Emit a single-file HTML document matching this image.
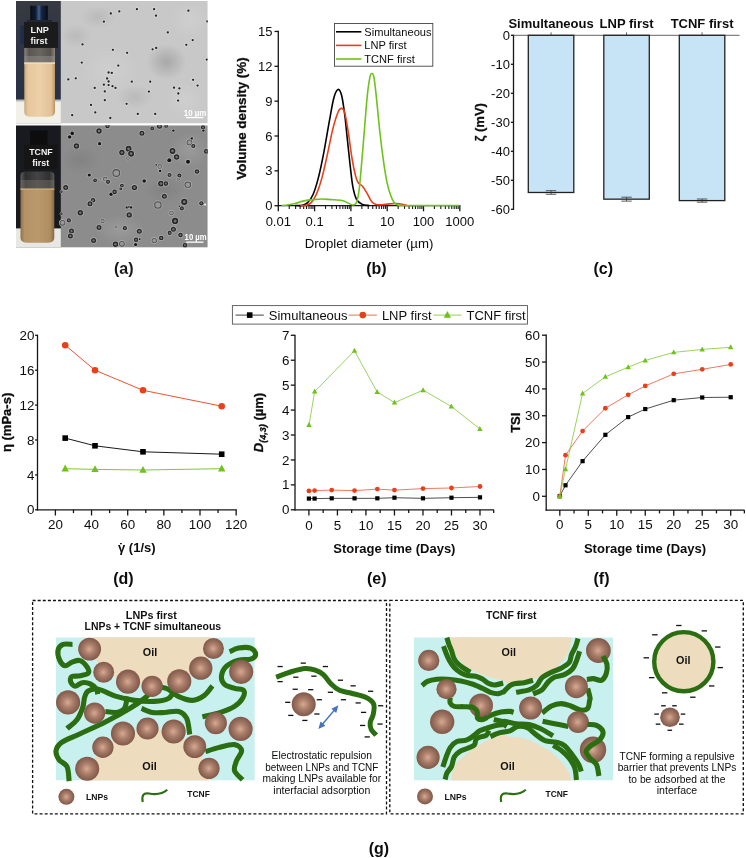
<!DOCTYPE html>
<html lang="en"><head><meta charset="utf-8"><title>Figure</title>
<style>
html,body{margin:0;padding:0;background:#fff;}
body{width:746px;height:858px;overflow:hidden;}
svg{display:block;font-family:'Liberation Sans', sans-serif;}
</style></head><body>
<svg width="746" height="858" viewBox="0 0 746 858">
<defs>
<radialGradient id="lnp" cx="50%" cy="50%" r="50%" fx="48%" fy="50%">
<stop offset="0" stop-color="#d9aa94"/><stop offset="0.45" stop-color="#a97e6a"/><stop offset="0.85" stop-color="#8b6252"/><stop offset="1" stop-color="#83594a"/>
</radialGradient>
<linearGradient id="cap1" x1="0" x2="1" y1="0" y2="0">
<stop offset="0" stop-color="#080c16"/><stop offset="0.32" stop-color="#131d33"/><stop offset="0.5" stop-color="#3f6594"/><stop offset="0.62" stop-color="#1a2a47"/><stop offset="1" stop-color="#070a12"/></linearGradient>
<linearGradient id="liq1" x1="0" x2="1" y1="0" y2="0">
<stop offset="0" stop-color="#c9a77c"/><stop offset="0.12" stop-color="#e6c79d"/><stop offset="0.5" stop-color="#ecd0a8"/><stop offset="0.88" stop-color="#e2c196"/><stop offset="1" stop-color="#b89368"/></linearGradient>
<linearGradient id="liq2" x1="0" x2="1" y1="0" y2="0">
<stop offset="0" stop-color="#907248"/><stop offset="0.12" stop-color="#b39266"/><stop offset="0.5" stop-color="#ba996e"/><stop offset="0.88" stop-color="#ae8d60"/><stop offset="1" stop-color="#87683e"/></linearGradient>
<linearGradient id="glass1" x1="0" x2="1" y1="0" y2="0">
<stop offset="0" stop-color="#8a857c"/><stop offset="0.15" stop-color="#5a5650"/><stop offset="0.5" stop-color="#6a655e"/><stop offset="0.85" stop-color="#55514b"/><stop offset="1" stop-color="#8a857c"/></linearGradient>
<linearGradient id="glass2" x1="0" x2="1" y1="0" y2="0">
<stop offset="0" stop-color="#5d5d5b"/><stop offset="0.15" stop-color="#2f2f30"/><stop offset="0.5" stop-color="#454545"/><stop offset="0.85" stop-color="#303031"/><stop offset="1" stop-color="#5a5a58"/></linearGradient>
<linearGradient id="bg1" x1="0" x2="0" y1="0" y2="1"><stop offset="0" stop-color="#373a41"/><stop offset="0.35" stop-color="#2f3544"/><stop offset="1" stop-color="#262f47"/></linearGradient>
<radialGradient id="blob" cx="50%" cy="50%" r="50%"><stop offset="0" stop-color="#000" stop-opacity="0.16"/><stop offset="1" stop-color="#000" stop-opacity="0"/></radialGradient>
<radialGradient id="blob2" cx="50%" cy="50%" r="50%"><stop offset="0" stop-color="#000" stop-opacity="0.07"/><stop offset="1" stop-color="#000" stop-opacity="0"/></radialGradient>
<radialGradient id="blobw" cx="50%" cy="50%" r="50%"><stop offset="0" stop-color="#fff" stop-opacity="0.12"/><stop offset="1" stop-color="#fff" stop-opacity="0"/></radialGradient>
<filter id="bl" x="-20%" y="-20%" width="140%" height="140%"><feGaussianBlur stdDeviation="0.4"/></filter>
<filter id="bl2" x="-20%" y="-20%" width="140%" height="140%"><feGaussianBlur stdDeviation="0.7"/></filter>
<clipPath id="cpA1"><rect x="16" y="1" width="191.7" height="122.5"/></clipPath>
<clipPath id="cpA2"><rect x="16" y="125.3" width="191.7" height="122.3"/></clipPath>

<clipPath id="cpL"><rect x="55.9" y="637.3" width="198.9" height="143.2"/></clipPath><clipPath id="cpR"><rect x="413.9" y="637.3" width="199.1" height="143.2"/></clipPath>
</defs>
<rect width="746" height="858" fill="#fff"/>
<g clip-path="url(#cpA1)">
<rect x="16" y="1" width="45" height="122.5" fill="url(#bg1)"/>
<rect x="16" y="100" width="45" height="24" fill="#f1f0e9"/>
<rect x="16" y="99" width="45" height="2.5" fill="#9a9a98" opacity="0.6" filter="url(#bl)"/>
<g filter="url(#bl)">
<rect x="24.3" y="46" width="30.7" height="19" fill="url(#glass1)"/>
<rect x="24.3" y="56" width="30.7" height="7" fill="#8b8a86" opacity="0.55"/>
<path d="M24.3 63 H55 V112 Q55 116.5 48 116.8 H31 Q24.3 116.5 24.3 112 Z" fill="url(#liq1)"/>
<rect x="24.3" y="62.3" width="30.7" height="1.6" fill="#f1debd"/>
<rect x="30.2" y="5.7" width="17.6" height="14.6" fill="url(#cap1)"/>
<rect x="27" y="20" width="25" height="3" fill="#23262d"/>
<rect x="20.4" y="25.5" width="4" height="18" fill="#1c2d4a"/>
</g>
<rect x="24" y="22" width="34" height="25.9" fill="#1a1b1a"/>
<text x="30.60" y="32.80" font-size="9" font-weight="bold" text-anchor="start" fill="#f4f4f4" textLength="18.2" lengthAdjust="spacingAndGlyphs" >LNP</text>
<text x="30.60" y="43.90" font-size="9" font-weight="bold" text-anchor="start" fill="#f4f4f4" textLength="16.9" lengthAdjust="spacingAndGlyphs" >first</text>
<rect x="60.8" y="1" width="147" height="122.5" fill="#c8c8c8"/>
<ellipse cx="166.5" cy="62" rx="20" ry="18" fill="url(#blob)"/>
<ellipse cx="98" cy="17" rx="18" ry="12" fill="url(#blob2)"/>
<ellipse cx="76" cy="36" rx="16" ry="12" fill="url(#blob2)"/>
<ellipse cx="135" cy="97" rx="18" ry="12" fill="url(#blob2)"/>
<ellipse cx="190" cy="20" rx="20" ry="18" fill="url(#blobw)"/>
<ellipse cx="110" cy="70" rx="30" ry="25" fill="url(#blobw)"/>
<ellipse cx="185" cy="100" rx="20" ry="18" fill="url(#blobw)"/>
<g filter="url(#bl)">
<circle cx="110.8" cy="13.5" r="2.0" fill="#d8d8d8"/>
<circle cx="119.3" cy="11.4" r="2.0" fill="#d8d8d8"/>
<circle cx="136.9" cy="9.2" r="2.0" fill="#d8d8d8"/>
<circle cx="154.1" cy="9.2" r="2.0" fill="#d8d8d8"/>
<circle cx="156.0" cy="15.7" r="2.0" fill="#d8d8d8"/>
<circle cx="188.4" cy="10.7" r="2.0" fill="#d8d8d8"/>
<circle cx="103.9" cy="21.7" r="2.0" fill="#d8d8d8"/>
<circle cx="167.8" cy="32.4" r="2.0" fill="#d8d8d8"/>
<circle cx="192.7" cy="40.1" r="2.0" fill="#d8d8d8"/>
<circle cx="186.3" cy="44.8" r="2.0" fill="#d8d8d8"/>
<circle cx="112.9" cy="49.8" r="2.0" fill="#d8d8d8"/>
<circle cx="127.1" cy="52.8" r="2.0" fill="#d8d8d8"/>
<circle cx="156.2" cy="48.0" r="2.0" fill="#d8d8d8"/>
<circle cx="152.6" cy="49.3" r="2.0" fill="#d8d8d8"/>
<circle cx="206.8" cy="59.6" r="2.0" fill="#d8d8d8"/>
<circle cx="118.3" cy="65.6" r="2.0" fill="#d8d8d8"/>
<circle cx="81.8" cy="62.6" r="2.0" fill="#d8d8d8"/>
<circle cx="108.6" cy="72.5" r="2.0" fill="#d8d8d8"/>
<circle cx="111.8" cy="72.9" r="2.0" fill="#d8d8d8"/>
<circle cx="107.1" cy="78.5" r="2.0" fill="#d8d8d8"/>
<circle cx="108.6" cy="81.5" r="2.0" fill="#d8d8d8"/>
<circle cx="103.9" cy="84.7" r="2.0" fill="#d8d8d8"/>
<circle cx="108.6" cy="85.1" r="2.0" fill="#d8d8d8"/>
<circle cx="112.5" cy="86.2" r="2.0" fill="#d8d8d8"/>
<circle cx="115.5" cy="87.9" r="2.0" fill="#d8d8d8"/>
<circle cx="104.8" cy="91.4" r="2.0" fill="#d8d8d8"/>
<circle cx="131.8" cy="81.7" r="2.0" fill="#d8d8d8"/>
<circle cx="150.2" cy="81.7" r="2.0" fill="#d8d8d8"/>
<circle cx="148.9" cy="91.6" r="2.0" fill="#d8d8d8"/>
<circle cx="174.0" cy="87.7" r="2.0" fill="#d8d8d8"/>
<circle cx="179.4" cy="88.4" r="2.0" fill="#d8d8d8"/>
<circle cx="178.3" cy="93.5" r="2.0" fill="#d8d8d8"/>
<circle cx="178.1" cy="100.6" r="2.0" fill="#d8d8d8"/>
<circle cx="193.1" cy="79.8" r="2.0" fill="#d8d8d8"/>
<circle cx="197.6" cy="85.6" r="2.0" fill="#d8d8d8"/>
<circle cx="104.8" cy="100.2" r="2.0" fill="#d8d8d8"/>
<circle cx="91.0" cy="104.9" r="2.0" fill="#d8d8d8"/>
<circle cx="95.3" cy="112.4" r="2.0" fill="#d8d8d8"/>
<circle cx="126.6" cy="103.8" r="2.0" fill="#d8d8d8"/>
<circle cx="137.8" cy="113.9" r="2.0" fill="#d8d8d8"/>
<circle cx="155.2" cy="113.9" r="2.0" fill="#d8d8d8"/>
<circle cx="68.3" cy="79.4" r="2.0" fill="#d8d8d8"/>
<circle cx="75.8" cy="78.3" r="2.0" fill="#d8d8d8"/>
<circle cx="72.2" cy="115.2" r="2.0" fill="#d8d8d8"/>
<circle cx="110.3" cy="118.0" r="2.0" fill="#d8d8d8"/>
<circle cx="94.7" cy="87.9" r="2.0" fill="#d8d8d8"/>
<circle cx="82.5" cy="44.4" r="2.0" fill="#d8d8d8"/>
<circle cx="207.3" cy="21.4" r="2.0" fill="#d8d8d8"/>
<circle cx="110.8" cy="13.5" r="1.15" fill="#222"/>
<circle cx="119.3" cy="11.4" r="1.15" fill="#222"/>
<circle cx="136.9" cy="9.2" r="1.15" fill="#222"/>
<circle cx="154.1" cy="9.2" r="1.15" fill="#222"/>
<circle cx="156.0" cy="15.7" r="1.15" fill="#222"/>
<circle cx="188.4" cy="10.7" r="1.15" fill="#222"/>
<circle cx="103.9" cy="21.7" r="1.15" fill="#222"/>
<circle cx="167.8" cy="32.4" r="1.15" fill="#222"/>
<circle cx="192.7" cy="40.1" r="1.15" fill="#222"/>
<circle cx="186.3" cy="44.8" r="1.15" fill="#222"/>
<circle cx="112.9" cy="49.8" r="1.15" fill="#222"/>
<circle cx="127.1" cy="52.8" r="1.15" fill="#222"/>
<circle cx="156.2" cy="48.0" r="1.15" fill="#222"/>
<circle cx="152.6" cy="49.3" r="1.15" fill="#222"/>
<circle cx="206.8" cy="59.6" r="1.15" fill="#222"/>
<circle cx="118.3" cy="65.6" r="1.15" fill="#222"/>
<circle cx="81.8" cy="62.6" r="1.15" fill="#222"/>
<circle cx="108.6" cy="72.5" r="1.15" fill="#222"/>
<circle cx="111.8" cy="72.9" r="1.15" fill="#222"/>
<circle cx="107.1" cy="78.5" r="1.15" fill="#222"/>
<circle cx="108.6" cy="81.5" r="1.15" fill="#222"/>
<circle cx="103.9" cy="84.7" r="1.15" fill="#222"/>
<circle cx="108.6" cy="85.1" r="1.15" fill="#222"/>
<circle cx="112.5" cy="86.2" r="1.15" fill="#222"/>
<circle cx="115.5" cy="87.9" r="1.15" fill="#222"/>
<circle cx="104.8" cy="91.4" r="1.15" fill="#222"/>
<circle cx="131.8" cy="81.7" r="1.15" fill="#222"/>
<circle cx="150.2" cy="81.7" r="1.15" fill="#222"/>
<circle cx="148.9" cy="91.6" r="1.15" fill="#222"/>
<circle cx="174.0" cy="87.7" r="1.15" fill="#222"/>
<circle cx="179.4" cy="88.4" r="1.15" fill="#222"/>
<circle cx="178.3" cy="93.5" r="1.15" fill="#222"/>
<circle cx="178.1" cy="100.6" r="1.15" fill="#222"/>
<circle cx="193.1" cy="79.8" r="1.15" fill="#222"/>
<circle cx="197.6" cy="85.6" r="1.15" fill="#222"/>
<circle cx="104.8" cy="100.2" r="1.15" fill="#222"/>
<circle cx="91.0" cy="104.9" r="1.15" fill="#222"/>
<circle cx="95.3" cy="112.4" r="1.15" fill="#222"/>
<circle cx="126.6" cy="103.8" r="1.15" fill="#222"/>
<circle cx="137.8" cy="113.9" r="1.15" fill="#222"/>
<circle cx="155.2" cy="113.9" r="1.15" fill="#222"/>
<circle cx="68.3" cy="79.4" r="1.15" fill="#222"/>
<circle cx="75.8" cy="78.3" r="1.15" fill="#222"/>
<circle cx="72.2" cy="115.2" r="1.15" fill="#222"/>
<circle cx="110.3" cy="118.0" r="1.15" fill="#222"/>
<circle cx="94.7" cy="87.9" r="1.15" fill="#222"/>
<circle cx="82.5" cy="44.4" r="1.15" fill="#222"/>
<circle cx="207.3" cy="21.4" r="1.15" fill="#222"/>
</g>
<text x="183.80" y="115.60" font-size="9" font-weight="bold" text-anchor="start" fill="#ffffff" textLength="22.6" lengthAdjust="spacingAndGlyphs" >10 µm</text>
<rect x="186" y="116.9" width="17.5" height="1.3" fill="#fff"/>
</g>
<g clip-path="url(#cpA2)">
<rect x="16" y="125.3" width="45" height="122.3" fill="#181a1f"/>
<rect x="16" y="228.4" width="45" height="20" fill="#e7e7e3"/>
<g filter="url(#bl)">
<rect x="30" y="130.4" width="17.6" height="16" fill="#0b0c0f"/>
<path d="M20.5 175 Q20.5 171.5 26 171.5 H49 Q54.3 171.5 54.3 175 V190 H20.5 Z" fill="url(#glass2)"/>
<rect x="20.5" y="180" width="33.8" height="8" fill="#77736a" opacity="0.45"/>
<path d="M20.5 189 H54.3 V238 Q54.3 242.5 47 242.8 H28 Q20.5 242.5 20.5 238 Z" fill="url(#liq2)"/>
<rect x="20.5" y="188.3" width="33.8" height="1.6" fill="#c9a878"/>
</g>
<rect x="24" y="144.7" width="33.5" height="24.1" fill="#151515"/>
<text x="29.20" y="154.80" font-size="9" font-weight="bold" text-anchor="start" fill="#f4f4f4" textLength="23.5" lengthAdjust="spacingAndGlyphs" >TCNF</text>
<text x="32.30" y="165.80" font-size="9" font-weight="bold" text-anchor="start" fill="#f4f4f4" textLength="16.9" lengthAdjust="spacingAndGlyphs" >first</text>
<rect x="60.8" y="125.3" width="147" height="122.3" fill="#8c8c8c"/>
<ellipse cx="165" cy="190" rx="20" ry="14" fill="url(#blob2)"/>
<ellipse cx="80" cy="160" rx="20" ry="14" fill="url(#blob2)"/>
<ellipse cx="120" cy="230" rx="25" ry="15" fill="url(#blobw)"/>
<ellipse cx="190" cy="150" rx="20" ry="18" fill="url(#blobw)"/>
<g filter="url(#bl)">
<circle cx="72.2" cy="133.4" r="2.47" fill="#b2b2b2"/>
<circle cx="72.2" cy="133.4" r="1.82" fill="#181818"/>
<circle cx="69.6" cy="137.0" r="2.47" fill="#b2b2b2"/>
<circle cx="69.6" cy="137.0" r="1.82" fill="#181818"/>
<circle cx="76.4" cy="146.0" r="3.32" fill="#b2b2b2"/>
<circle cx="76.4" cy="146.0" r="2.72" fill="#262626"/>
<circle cx="76.4" cy="146.0" r="1.29" fill="#727272"/>
<circle cx="99.0" cy="131.0" r="3.32" fill="#b2b2b2"/>
<circle cx="99.0" cy="131.0" r="2.72" fill="#262626"/>
<circle cx="99.0" cy="131.0" r="1.29" fill="#727272"/>
<circle cx="107.5" cy="125.9" r="2.89" fill="#b2b2b2"/>
<circle cx="107.5" cy="125.9" r="2.29" fill="#262626"/>
<circle cx="107.5" cy="125.9" r="1.07" fill="#727272"/>
<circle cx="99.6" cy="143.7" r="2.25" fill="#b2b2b2"/>
<circle cx="99.6" cy="143.7" r="1.60" fill="#181818"/>
<circle cx="121.9" cy="152.5" r="3.32" fill="#b2b2b2"/>
<circle cx="121.9" cy="152.5" r="2.72" fill="#262626"/>
<circle cx="121.9" cy="152.5" r="1.29" fill="#727272"/>
<circle cx="128.6" cy="148.8" r="3.54" fill="#b2b2b2"/>
<circle cx="128.6" cy="148.8" r="2.94" fill="#262626"/>
<circle cx="128.6" cy="148.8" r="1.39" fill="#727272"/>
<circle cx="131.1" cy="153.7" r="3.54" fill="#b2b2b2"/>
<circle cx="131.1" cy="153.7" r="2.94" fill="#262626"/>
<circle cx="131.1" cy="153.7" r="1.39" fill="#727272"/>
<circle cx="127.9" cy="158.0" r="2.47" fill="#b2b2b2"/>
<circle cx="127.9" cy="158.0" r="1.82" fill="#4c4c4c"/>
<circle cx="127.9" cy="158.0" r="1.27" fill="#989898"/>
<circle cx="141.9" cy="133.2" r="3.11" fill="#b2b2b2"/>
<circle cx="141.9" cy="133.2" r="2.51" fill="#262626"/>
<circle cx="141.9" cy="133.2" r="1.18" fill="#727272"/>
<circle cx="152.2" cy="128.4" r="2.47" fill="#b2b2b2"/>
<circle cx="152.2" cy="128.4" r="1.87" fill="#262626"/>
<circle cx="152.2" cy="128.4" r="0.86" fill="#727272"/>
<circle cx="159.5" cy="126.3" r="3.11" fill="#b2b2b2"/>
<circle cx="159.5" cy="126.3" r="2.51" fill="#262626"/>
<circle cx="159.5" cy="126.3" r="1.18" fill="#727272"/>
<circle cx="166.1" cy="125.9" r="2.47" fill="#b2b2b2"/>
<circle cx="166.1" cy="125.9" r="1.87" fill="#262626"/>
<circle cx="166.1" cy="125.9" r="0.86" fill="#727272"/>
<circle cx="173.4" cy="130.6" r="1.82" fill="#b2b2b2"/>
<circle cx="173.4" cy="130.6" r="1.17" fill="#181818"/>
<circle cx="203.0" cy="127.4" r="2.68" fill="#b2b2b2"/>
<circle cx="203.0" cy="127.4" r="2.08" fill="#262626"/>
<circle cx="203.0" cy="127.4" r="0.97" fill="#727272"/>
<circle cx="203.4" cy="130.6" r="1.82" fill="#b2b2b2"/>
<circle cx="203.4" cy="130.6" r="1.17" fill="#181818"/>
<circle cx="189.5" cy="142.4" r="3.54" fill="#b2b2b2"/>
<circle cx="189.5" cy="142.4" r="2.89" fill="#4c4c4c"/>
<circle cx="189.5" cy="142.4" r="2.06" fill="#989898"/>
<circle cx="193.3" cy="146.0" r="2.68" fill="#b2b2b2"/>
<circle cx="193.3" cy="146.0" r="2.08" fill="#262626"/>
<circle cx="193.3" cy="146.0" r="0.97" fill="#727272"/>
<circle cx="191.8" cy="138.3" r="1.82" fill="#b2b2b2"/>
<circle cx="191.8" cy="138.3" r="1.17" fill="#181818"/>
<circle cx="172.5" cy="151.0" r="3.54" fill="#b2b2b2"/>
<circle cx="172.5" cy="151.0" r="2.94" fill="#262626"/>
<circle cx="172.5" cy="151.0" r="1.39" fill="#727272"/>
<circle cx="176.6" cy="157.0" r="3.32" fill="#b2b2b2"/>
<circle cx="176.6" cy="157.0" r="2.72" fill="#262626"/>
<circle cx="176.6" cy="157.0" r="1.29" fill="#727272"/>
<circle cx="169.3" cy="160.2" r="2.68" fill="#b2b2b2"/>
<circle cx="169.3" cy="160.2" r="2.03" fill="#181818"/>
<circle cx="188.0" cy="161.7" r="2.68" fill="#b2b2b2"/>
<circle cx="188.0" cy="161.7" r="2.03" fill="#181818"/>
<circle cx="206.2" cy="151.4" r="2.89" fill="#b2b2b2"/>
<circle cx="206.2" cy="151.4" r="2.29" fill="#262626"/>
<circle cx="206.2" cy="151.4" r="1.07" fill="#727272"/>
<circle cx="116.3" cy="173.0" r="4.61" fill="#b2b2b2"/>
<circle cx="116.3" cy="173.0" r="3.96" fill="#4c4c4c"/>
<circle cx="116.3" cy="173.0" r="2.86" fill="#989898"/>
<circle cx="159.7" cy="166.6" r="2.89" fill="#b2b2b2"/>
<circle cx="159.7" cy="166.6" r="2.24" fill="#4c4c4c"/>
<circle cx="159.7" cy="166.6" r="1.59" fill="#989898"/>
<circle cx="160.1" cy="170.9" r="1.82" fill="#b2b2b2"/>
<circle cx="160.1" cy="170.9" r="1.17" fill="#181818"/>
<circle cx="156.2" cy="164.9" r="1.39" fill="#b2b2b2"/>
<circle cx="156.2" cy="164.9" r="0.80" fill="#181818"/>
<circle cx="169.5" cy="175.0" r="2.68" fill="#b2b2b2"/>
<circle cx="169.5" cy="175.0" r="2.08" fill="#262626"/>
<circle cx="169.5" cy="175.0" r="0.97" fill="#727272"/>
<circle cx="179.4" cy="175.6" r="2.68" fill="#b2b2b2"/>
<circle cx="179.4" cy="175.6" r="2.08" fill="#262626"/>
<circle cx="179.4" cy="175.6" r="0.97" fill="#727272"/>
<circle cx="178.3" cy="179.3" r="2.04" fill="#b2b2b2"/>
<circle cx="178.3" cy="179.3" r="1.39" fill="#4c4c4c"/>
<circle cx="178.3" cy="179.3" r="0.95" fill="#989898"/>
<circle cx="197.0" cy="171.5" r="2.89" fill="#b2b2b2"/>
<circle cx="197.0" cy="171.5" r="2.29" fill="#262626"/>
<circle cx="197.0" cy="171.5" r="1.07" fill="#727272"/>
<circle cx="89.3" cy="175.0" r="2.25" fill="#b2b2b2"/>
<circle cx="89.3" cy="175.0" r="1.60" fill="#181818"/>
<circle cx="95.1" cy="180.3" r="2.47" fill="#b2b2b2"/>
<circle cx="95.1" cy="180.3" r="1.87" fill="#262626"/>
<circle cx="95.1" cy="180.3" r="0.86" fill="#727272"/>
<circle cx="105.2" cy="179.1" r="2.89" fill="#b2b2b2"/>
<circle cx="105.2" cy="179.1" r="2.24" fill="#4c4c4c"/>
<circle cx="105.2" cy="179.1" r="1.59" fill="#989898"/>
<circle cx="108.0" cy="181.8" r="2.68" fill="#b2b2b2"/>
<circle cx="108.0" cy="181.8" r="2.08" fill="#262626"/>
<circle cx="108.0" cy="181.8" r="0.97" fill="#727272"/>
<circle cx="100.5" cy="179.1" r="1.39" fill="#b2b2b2"/>
<circle cx="100.5" cy="179.1" r="0.74" fill="#4c4c4c"/>
<circle cx="100.5" cy="179.1" r="0.48" fill="#989898"/>
<circle cx="121.9" cy="185.5" r="2.47" fill="#b2b2b2"/>
<circle cx="121.9" cy="185.5" r="1.87" fill="#262626"/>
<circle cx="121.9" cy="185.5" r="0.86" fill="#727272"/>
<circle cx="120.8" cy="188.9" r="2.04" fill="#b2b2b2"/>
<circle cx="120.8" cy="188.9" r="1.44" fill="#262626"/>
<circle cx="120.8" cy="188.9" r="0.64" fill="#727272"/>
<circle cx="134.4" cy="187.6" r="3.32" fill="#b2b2b2"/>
<circle cx="134.4" cy="187.6" r="2.72" fill="#262626"/>
<circle cx="134.4" cy="187.6" r="1.29" fill="#727272"/>
<circle cx="144.2" cy="181.0" r="2.47" fill="#b2b2b2"/>
<circle cx="144.2" cy="181.0" r="1.82" fill="#181818"/>
<circle cx="161.0" cy="183.6" r="3.54" fill="#b2b2b2"/>
<circle cx="161.0" cy="183.6" r="2.94" fill="#262626"/>
<circle cx="161.0" cy="183.6" r="1.39" fill="#727272"/>
<circle cx="165.9" cy="183.6" r="2.89" fill="#b2b2b2"/>
<circle cx="165.9" cy="183.6" r="2.29" fill="#262626"/>
<circle cx="165.9" cy="183.6" r="1.07" fill="#727272"/>
<circle cx="187.8" cy="184.8" r="3.97" fill="#b2b2b2"/>
<circle cx="187.8" cy="184.8" r="3.32" fill="#4c4c4c"/>
<circle cx="187.8" cy="184.8" r="2.38" fill="#989898"/>
<circle cx="65.7" cy="187.6" r="3.11" fill="#b2b2b2"/>
<circle cx="65.7" cy="187.6" r="2.51" fill="#262626"/>
<circle cx="65.7" cy="187.6" r="1.18" fill="#727272"/>
<circle cx="111.2" cy="194.3" r="2.47" fill="#b2b2b2"/>
<circle cx="111.2" cy="194.3" r="1.82" fill="#181818"/>
<circle cx="114.6" cy="191.9" r="2.89" fill="#b2b2b2"/>
<circle cx="114.6" cy="191.9" r="2.29" fill="#262626"/>
<circle cx="114.6" cy="191.9" r="1.07" fill="#727272"/>
<circle cx="164.4" cy="196.2" r="3.11" fill="#b2b2b2"/>
<circle cx="164.4" cy="196.2" r="2.51" fill="#262626"/>
<circle cx="164.4" cy="196.2" r="1.18" fill="#727272"/>
<circle cx="93.0" cy="200.3" r="2.89" fill="#b2b2b2"/>
<circle cx="93.0" cy="200.3" r="2.29" fill="#262626"/>
<circle cx="93.0" cy="200.3" r="1.07" fill="#727272"/>
<circle cx="90.0" cy="203.7" r="3.11" fill="#b2b2b2"/>
<circle cx="90.0" cy="203.7" r="2.51" fill="#262626"/>
<circle cx="90.0" cy="203.7" r="1.18" fill="#727272"/>
<circle cx="157.9" cy="205.0" r="4.40" fill="#b2b2b2"/>
<circle cx="157.9" cy="205.0" r="3.75" fill="#4c4c4c"/>
<circle cx="157.9" cy="205.0" r="2.70" fill="#989898"/>
<circle cx="184.3" cy="201.8" r="3.75" fill="#b2b2b2"/>
<circle cx="184.3" cy="201.8" r="3.15" fill="#262626"/>
<circle cx="184.3" cy="201.8" r="1.50" fill="#727272"/>
<circle cx="181.8" cy="208.4" r="2.68" fill="#b2b2b2"/>
<circle cx="181.8" cy="208.4" r="2.08" fill="#262626"/>
<circle cx="181.8" cy="208.4" r="0.97" fill="#727272"/>
<circle cx="179.4" cy="206.3" r="1.39" fill="#b2b2b2"/>
<circle cx="179.4" cy="206.3" r="0.80" fill="#181818"/>
<circle cx="201.3" cy="203.3" r="2.68" fill="#b2b2b2"/>
<circle cx="201.3" cy="203.3" r="2.08" fill="#262626"/>
<circle cx="201.3" cy="203.3" r="0.97" fill="#727272"/>
<circle cx="205.1" cy="204.6" r="1.07" fill="#f0f0f0"/>
<circle cx="126.8" cy="207.4" r="1.82" fill="#b2b2b2"/>
<circle cx="126.8" cy="207.4" r="1.17" fill="#181818"/>
<circle cx="129.4" cy="206.9" r="1.82" fill="#b2b2b2"/>
<circle cx="129.4" cy="206.9" r="1.17" fill="#181818"/>
<circle cx="131.1" cy="207.4" r="1.82" fill="#b2b2b2"/>
<circle cx="131.1" cy="207.4" r="1.17" fill="#181818"/>
<circle cx="129.2" cy="214.9" r="3.32" fill="#b2b2b2"/>
<circle cx="129.2" cy="214.9" r="2.72" fill="#262626"/>
<circle cx="129.2" cy="214.9" r="1.29" fill="#727272"/>
<circle cx="80.3" cy="212.7" r="3.32" fill="#b2b2b2"/>
<circle cx="80.3" cy="212.7" r="2.72" fill="#262626"/>
<circle cx="80.3" cy="212.7" r="1.29" fill="#727272"/>
<circle cx="171.5" cy="212.9" r="2.89" fill="#b2b2b2"/>
<circle cx="171.5" cy="212.9" r="2.24" fill="#4c4c4c"/>
<circle cx="171.5" cy="212.9" r="1.59" fill="#989898"/>
<circle cx="175.1" cy="220.9" r="3.75" fill="#b2b2b2"/>
<circle cx="175.1" cy="220.9" r="3.15" fill="#262626"/>
<circle cx="175.1" cy="220.9" r="1.50" fill="#727272"/>
<circle cx="62.5" cy="222.8" r="3.54" fill="#b2b2b2"/>
<circle cx="62.5" cy="222.8" r="2.89" fill="#4c4c4c"/>
<circle cx="62.5" cy="222.8" r="2.06" fill="#989898"/>
<circle cx="68.9" cy="220.4" r="2.68" fill="#b2b2b2"/>
<circle cx="68.9" cy="220.4" r="2.08" fill="#262626"/>
<circle cx="68.9" cy="220.4" r="0.97" fill="#727272"/>
<circle cx="102.6" cy="221.1" r="2.68" fill="#b2b2b2"/>
<circle cx="102.6" cy="221.1" r="2.03" fill="#4c4c4c"/>
<circle cx="102.6" cy="221.1" r="1.43" fill="#989898"/>
<circle cx="99.0" cy="227.5" r="3.11" fill="#b2b2b2"/>
<circle cx="99.0" cy="227.5" r="2.51" fill="#262626"/>
<circle cx="99.0" cy="227.5" r="1.18" fill="#727272"/>
<circle cx="115.9" cy="226.9" r="2.04" fill="#b2b2b2"/>
<circle cx="115.9" cy="226.9" r="1.39" fill="#4c4c4c"/>
<circle cx="115.9" cy="226.9" r="0.95" fill="#989898"/>
<circle cx="124.9" cy="228.2" r="2.68" fill="#b2b2b2"/>
<circle cx="124.9" cy="228.2" r="2.08" fill="#262626"/>
<circle cx="124.9" cy="228.2" r="0.97" fill="#727272"/>
<circle cx="139.3" cy="231.2" r="3.11" fill="#b2b2b2"/>
<circle cx="139.3" cy="231.2" r="2.51" fill="#262626"/>
<circle cx="139.3" cy="231.2" r="1.18" fill="#727272"/>
<circle cx="173.4" cy="229.2" r="3.11" fill="#b2b2b2"/>
<circle cx="173.4" cy="229.2" r="2.51" fill="#262626"/>
<circle cx="173.4" cy="229.2" r="1.18" fill="#727272"/>
<circle cx="169.7" cy="232.9" r="2.68" fill="#b2b2b2"/>
<circle cx="169.7" cy="232.9" r="2.08" fill="#262626"/>
<circle cx="169.7" cy="232.9" r="0.97" fill="#727272"/>
<circle cx="180.5" cy="235.0" r="2.89" fill="#b2b2b2"/>
<circle cx="180.5" cy="235.0" r="2.29" fill="#262626"/>
<circle cx="180.5" cy="235.0" r="1.07" fill="#727272"/>
<circle cx="71.5" cy="231.0" r="3.11" fill="#b2b2b2"/>
<circle cx="71.5" cy="231.0" r="2.51" fill="#262626"/>
<circle cx="71.5" cy="231.0" r="1.18" fill="#727272"/>
<circle cx="70.4" cy="235.9" r="3.11" fill="#b2b2b2"/>
<circle cx="70.4" cy="235.9" r="2.51" fill="#262626"/>
<circle cx="70.4" cy="235.9" r="1.18" fill="#727272"/>
<circle cx="93.6" cy="240.4" r="3.11" fill="#b2b2b2"/>
<circle cx="93.6" cy="240.4" r="2.51" fill="#262626"/>
<circle cx="93.6" cy="240.4" r="1.18" fill="#727272"/>
<circle cx="136.1" cy="239.7" r="2.89" fill="#b2b2b2"/>
<circle cx="136.1" cy="239.7" r="2.29" fill="#262626"/>
<circle cx="136.1" cy="239.7" r="1.07" fill="#727272"/>
<circle cx="135.6" cy="244.5" r="2.25" fill="#b2b2b2"/>
<circle cx="135.6" cy="244.5" r="1.60" fill="#181818"/>
<circle cx="139.7" cy="239.1" r="1.61" fill="#b2b2b2"/>
<circle cx="139.7" cy="239.1" r="0.96" fill="#181818"/>
<circle cx="154.3" cy="240.6" r="3.32" fill="#b2b2b2"/>
<circle cx="154.3" cy="240.6" r="2.67" fill="#4c4c4c"/>
<circle cx="154.3" cy="240.6" r="1.90" fill="#989898"/>
<circle cx="161.2" cy="238.0" r="2.89" fill="#b2b2b2"/>
<circle cx="161.2" cy="238.0" r="2.29" fill="#262626"/>
<circle cx="161.2" cy="238.0" r="1.07" fill="#727272"/>
<circle cx="115.5" cy="244.3" r="3.32" fill="#b2b2b2"/>
<circle cx="115.5" cy="244.3" r="2.72" fill="#262626"/>
<circle cx="115.5" cy="244.3" r="1.29" fill="#727272"/>
<circle cx="121.9" cy="243.8" r="3.54" fill="#b2b2b2"/>
<circle cx="121.9" cy="243.8" r="2.89" fill="#4c4c4c"/>
<circle cx="121.9" cy="243.8" r="2.06" fill="#989898"/>
<circle cx="185.0" cy="245.3" r="2.89" fill="#b2b2b2"/>
<circle cx="185.0" cy="245.3" r="2.29" fill="#262626"/>
<circle cx="185.0" cy="245.3" r="1.07" fill="#727272"/>
<circle cx="61.4" cy="213.8" r="1.82" fill="#b2b2b2"/>
<circle cx="61.4" cy="213.8" r="1.22" fill="#262626"/>
<circle cx="61.4" cy="213.8" r="0.54" fill="#727272"/>
<circle cx="61.4" cy="191.7" r="1.82" fill="#b2b2b2"/>
<circle cx="61.4" cy="191.7" r="1.22" fill="#262626"/>
<circle cx="61.4" cy="191.7" r="0.54" fill="#727272"/>
</g>
<text x="184.60" y="240.00" font-size="9" font-weight="bold" text-anchor="start" fill="#ffffff" textLength="22.0" lengthAdjust="spacingAndGlyphs" >10 µm</text>
<rect x="186.2" y="241.5" width="17.3" height="1.3" fill="#fff"/>
</g>
<text x="123.70" y="273.60" font-size="16" font-weight="bold" text-anchor="middle" fill="#1a1a1a" >(a)</text>
<g stroke="#161616" stroke-width="1.3" fill="none">
<path d="M278.30 30.70 V206.30"/>
<path d="M277.70 205.70 H460.40"/>
<path d="M278.30 205.70 h-3.8"/>
<path d="M278.30 170.85 h-3.8"/>
<path d="M278.30 136.00 h-3.8"/>
<path d="M278.30 101.15 h-3.8"/>
<path d="M278.30 66.30 h-3.8"/>
<path d="M278.30 31.45 h-3.8"/>
<path d="M278.30 205.70 v5.6"/>
<path d="M289.23 205.70 v3.2" stroke-width="1.1"/>
<path d="M295.62 205.70 v3.2" stroke-width="1.1"/>
<path d="M300.15 205.70 v3.2" stroke-width="1.1"/>
<path d="M303.67 205.70 v3.2" stroke-width="1.1"/>
<path d="M306.55 205.70 v3.2" stroke-width="1.1"/>
<path d="M308.98 205.70 v3.2" stroke-width="1.1"/>
<path d="M311.08 205.70 v3.2" stroke-width="1.1"/>
<path d="M312.94 205.70 v3.2" stroke-width="1.1"/>
<path d="M314.60 205.70 v5.6"/>
<path d="M325.53 205.70 v3.2" stroke-width="1.1"/>
<path d="M331.92 205.70 v3.2" stroke-width="1.1"/>
<path d="M336.45 205.70 v3.2" stroke-width="1.1"/>
<path d="M339.97 205.70 v3.2" stroke-width="1.1"/>
<path d="M342.85 205.70 v3.2" stroke-width="1.1"/>
<path d="M345.28 205.70 v3.2" stroke-width="1.1"/>
<path d="M347.38 205.70 v3.2" stroke-width="1.1"/>
<path d="M349.24 205.70 v3.2" stroke-width="1.1"/>
<path d="M350.90 205.70 v5.6"/>
<path d="M361.83 205.70 v3.2" stroke-width="1.1"/>
<path d="M368.22 205.70 v3.2" stroke-width="1.1"/>
<path d="M372.75 205.70 v3.2" stroke-width="1.1"/>
<path d="M376.27 205.70 v3.2" stroke-width="1.1"/>
<path d="M379.15 205.70 v3.2" stroke-width="1.1"/>
<path d="M381.58 205.70 v3.2" stroke-width="1.1"/>
<path d="M383.68 205.70 v3.2" stroke-width="1.1"/>
<path d="M385.54 205.70 v3.2" stroke-width="1.1"/>
<path d="M387.20 205.70 v5.6"/>
<path d="M398.13 205.70 v3.2" stroke-width="1.1"/>
<path d="M404.52 205.70 v3.2" stroke-width="1.1"/>
<path d="M409.05 205.70 v3.2" stroke-width="1.1"/>
<path d="M412.57 205.70 v3.2" stroke-width="1.1"/>
<path d="M415.45 205.70 v3.2" stroke-width="1.1"/>
<path d="M417.88 205.70 v3.2" stroke-width="1.1"/>
<path d="M419.98 205.70 v3.2" stroke-width="1.1"/>
<path d="M421.84 205.70 v3.2" stroke-width="1.1"/>
<path d="M423.50 205.70 v5.6"/>
<path d="M434.43 205.70 v3.2" stroke-width="1.1"/>
<path d="M440.82 205.70 v3.2" stroke-width="1.1"/>
<path d="M445.35 205.70 v3.2" stroke-width="1.1"/>
<path d="M448.87 205.70 v3.2" stroke-width="1.1"/>
<path d="M451.75 205.70 v3.2" stroke-width="1.1"/>
<path d="M454.18 205.70 v3.2" stroke-width="1.1"/>
<path d="M456.28 205.70 v3.2" stroke-width="1.1"/>
<path d="M458.14 205.70 v3.2" stroke-width="1.1"/>
<path d="M459.80 205.70 v5.6"/>
</g>
<text x="272.50" y="210.30" font-size="13" font-weight="normal" text-anchor="end" fill="#0d0d0d" >0</text>
<text x="272.50" y="175.45" font-size="13" font-weight="normal" text-anchor="end" fill="#0d0d0d" >3</text>
<text x="272.50" y="140.60" font-size="13" font-weight="normal" text-anchor="end" fill="#0d0d0d" >6</text>
<text x="272.50" y="105.75" font-size="13" font-weight="normal" text-anchor="end" fill="#0d0d0d" >9</text>
<text x="272.50" y="70.90" font-size="13" font-weight="normal" text-anchor="end" fill="#0d0d0d" >12</text>
<text x="272.50" y="36.05" font-size="13" font-weight="normal" text-anchor="end" fill="#0d0d0d" >15</text>
<text x="278.30" y="225.60" font-size="13" font-weight="normal" text-anchor="middle" fill="#0d0d0d" >0.01</text>
<text x="314.60" y="225.60" font-size="13" font-weight="normal" text-anchor="middle" fill="#0d0d0d" >0.1</text>
<text x="350.90" y="225.60" font-size="13" font-weight="normal" text-anchor="middle" fill="#0d0d0d" >1</text>
<text x="387.20" y="225.60" font-size="13" font-weight="normal" text-anchor="middle" fill="#0d0d0d" >10</text>
<text x="423.50" y="225.60" font-size="13" font-weight="normal" text-anchor="middle" fill="#0d0d0d" >100</text>
<text x="459.80" y="225.60" font-size="13" font-weight="normal" text-anchor="middle" fill="#0d0d0d" >1000</text>
<text x="369.00" y="247.80" font-size="13.2" font-weight="normal" text-anchor="middle" fill="#0d0d0d" textLength="128.6" lengthAdjust="spacingAndGlyphs" >Droplet diameter (µm)</text>
<text x="245.80" y="118.50" font-size="13.3" font-weight="bold" text-anchor="middle" fill="#0d0d0d" transform="rotate(-90 245.80 118.50)" stroke="#0d0d0d" stroke-width="0.3" textLength="122.3" lengthAdjust="spacingAndGlyphs" >Volume density (%)</text>
<path d="M295.00 205.54 C296.20 205.51 300.12 205.84 302.22 205.36 C304.33 204.88 305.83 204.46 307.64 202.65 C309.45 200.85 311.25 198.74 313.06 194.53 C314.86 190.31 316.67 184.44 318.47 177.37 C320.28 170.30 322.09 161.42 323.89 152.09 C325.70 142.76 327.65 130.42 329.31 121.39 C330.96 112.37 332.38 103.25 333.82 97.92 C335.27 92.59 336.68 89.88 337.98 89.43 C339.27 88.98 340.47 91.09 341.59 95.21 C342.70 99.33 343.69 106.80 344.66 114.17 C345.62 121.54 346.46 131.02 347.37 139.45 C348.27 147.88 349.17 156.91 350.07 164.73 C350.98 172.56 351.73 180.68 352.78 186.40 C353.84 192.12 354.89 196.09 356.39 199.04 C357.90 201.99 359.70 203.01 361.81 204.10 C363.92 205.18 367.83 205.30 369.03 205.54" fill="none" stroke="#000000" stroke-width="1.6" stroke-linejoin="round"/>
<path d="M300.42 205.54 C301.32 205.51 304.03 205.84 305.83 205.36 C307.64 204.88 309.45 204.61 311.25 202.65 C313.06 200.69 314.86 197.84 316.67 193.62 C318.47 189.41 320.28 183.99 322.09 177.37 C323.89 170.75 325.70 162.02 327.50 153.90 C329.31 145.77 331.11 135.69 332.92 128.62 C334.73 121.54 336.89 114.83 338.34 111.46 C339.78 108.09 340.53 108.24 341.59 108.39 C342.64 108.54 343.54 108.39 344.66 112.37 C345.77 116.34 347.06 124.70 348.27 132.23 C349.47 139.75 350.68 150.29 351.88 157.51 C353.08 164.73 354.44 171.35 355.49 175.57 C356.54 179.78 357.00 180.98 358.20 182.79 C359.40 184.59 361.21 184.59 362.71 186.40 C364.22 188.21 365.72 191.06 367.23 193.62 C368.73 196.18 370.24 199.94 371.74 201.75 C373.25 203.55 374.60 203.94 376.26 204.46 C377.91 204.97 379.57 204.91 381.67 204.82 C383.78 204.73 386.49 204.13 388.90 203.91 C391.30 203.70 393.71 203.46 396.12 203.55 C398.53 203.64 401.54 204.13 403.34 204.46 C405.15 204.79 406.35 205.36 406.95 205.54" fill="none" stroke="#e8401a" stroke-width="1.6" stroke-linejoin="round"/>
<path d="M281.46 205.54 C282.51 205.45 285.52 205.33 287.78 205.00 C290.03 204.67 292.29 204.25 295.00 203.55 C297.71 202.86 301.02 201.51 304.03 200.85 C307.04 200.18 310.05 199.88 313.06 199.58 C316.07 199.28 319.08 199.04 322.09 199.04 C325.10 199.04 327.80 199.34 331.11 199.58 C334.42 199.82 339.24 199.97 341.95 200.48 C344.66 201.00 345.56 201.90 347.37 202.65 C349.17 203.40 351.28 205.00 352.78 205.00 C354.29 205.00 355.34 205.15 356.39 202.65 C357.45 200.15 358.20 196.93 359.10 190.01 C360.01 183.09 360.91 171.35 361.81 161.12 C362.71 150.89 363.62 139.45 364.52 128.62 C365.42 117.78 366.33 104.69 367.23 96.11 C368.13 87.54 369.18 80.92 369.94 77.15 C370.69 73.39 371.08 73.54 371.74 73.54 C372.40 73.54 373.16 73.39 373.91 77.15 C374.66 80.92 375.26 86.94 376.26 96.11 C377.25 105.29 378.66 121.39 379.87 132.23 C381.07 143.06 382.28 152.69 383.48 161.12 C384.68 169.55 385.89 177.07 387.09 182.79 C388.29 188.51 389.50 192.12 390.70 195.43 C391.91 198.74 393.11 201.06 394.31 202.65 C395.52 204.25 396.42 204.52 397.93 205.00 C399.43 205.48 399.43 205.45 403.34 205.54 C407.25 205.63 412.01 205.54 421.40 205.54 C430.79 205.54 453.30 205.54 459.68 205.54" fill="none" stroke="#6fc21a" stroke-width="1.6" stroke-linejoin="round"/>
<rect x="334.5" y="23.5" width="98.3" height="42.7" fill="#fff" stroke="#444" stroke-width="0.9"/>
<path d="M336 31.80 H361.4" stroke="#000000" stroke-width="1.6"/>
<text x="364.30" y="35.80" font-size="11.1" font-weight="normal" text-anchor="start" fill="#0d0d0d" >Simultaneous</text>
<path d="M336 45.40 H361.4" stroke="#e8401a" stroke-width="1.6"/>
<text x="364.30" y="49.40" font-size="11.1" font-weight="normal" text-anchor="start" fill="#0d0d0d" >LNP first</text>
<path d="M336 59.00 H361.4" stroke="#6fc21a" stroke-width="1.6"/>
<text x="364.30" y="63.00" font-size="11.1" font-weight="normal" text-anchor="start" fill="#0d0d0d" >TCNF first</text>
<text x="376.40" y="273.60" font-size="16" font-weight="bold" text-anchor="middle" fill="#0d0d0d" >(b)</text>
<g stroke="#161616" stroke-width="1.3" fill="none">
<path d="M513.50 34.70 V209.90"/>
<path d="M513.50 35.30 h-2.6"/>
<path d="M513.50 64.30 h-2.6"/>
<path d="M513.50 93.30 h-2.6"/>
<path d="M513.50 122.30 h-2.6"/>
<path d="M513.50 151.30 h-2.6"/>
<path d="M513.50 180.30 h-2.6"/>
<path d="M513.50 209.30 h-2.6"/>
</g>
<path d="M513.50 35.30 H739.6" stroke="#555" stroke-width="0.9"/>
<text x="509.90" y="39.90" font-size="13" font-weight="normal" text-anchor="end" fill="#0d0d0d" >0</text>
<text x="509.90" y="68.90" font-size="13" font-weight="normal" text-anchor="end" fill="#0d0d0d" >-10</text>
<text x="509.90" y="97.90" font-size="13" font-weight="normal" text-anchor="end" fill="#0d0d0d" >-20</text>
<text x="509.90" y="126.90" font-size="13" font-weight="normal" text-anchor="end" fill="#0d0d0d" >-30</text>
<text x="509.90" y="155.90" font-size="13" font-weight="normal" text-anchor="end" fill="#0d0d0d" >-40</text>
<text x="509.90" y="184.90" font-size="13" font-weight="normal" text-anchor="end" fill="#0d0d0d" >-50</text>
<text x="509.90" y="213.90" font-size="13" font-weight="normal" text-anchor="end" fill="#0d0d0d" >-60</text>
<path d="M551.05 32.30 v3" stroke="#555" stroke-width="0.9"/>
<rect x="528.30" y="35.30" width="45.5" height="157.18" fill="#c6e4f6" stroke="#222" stroke-width="1.3"/>
<path d="M551.05 190.68 V194.28 M545.85 190.68 h10.4 M545.85 194.28 h10.4" stroke="#333" stroke-width="0.8" fill="none"/>
<text x="551.05" y="28.20" font-size="13" font-weight="bold" text-anchor="middle" fill="#0d0d0d" >Simultaneous</text>
<path d="M626.55 32.30 v3" stroke="#555" stroke-width="0.9"/>
<rect x="603.80" y="35.30" width="45.5" height="163.85" fill="#c6e4f6" stroke="#222" stroke-width="1.3"/>
<path d="M626.55 197.18 V201.12 M621.35 197.18 h10.4 M621.35 201.12 h10.4" stroke="#333" stroke-width="0.8" fill="none"/>
<text x="626.55" y="28.20" font-size="13" font-weight="bold" text-anchor="middle" fill="#0d0d0d" >LNP first</text>
<path d="M702.05 32.30 v3" stroke="#555" stroke-width="0.9"/>
<rect x="679.30" y="35.30" width="45.5" height="165.30" fill="#c6e4f6" stroke="#222" stroke-width="1.3"/>
<path d="M702.05 199.00 V202.19 M696.85 199.00 h10.4 M696.85 202.19 h10.4" stroke="#333" stroke-width="0.8" fill="none"/>
<text x="702.05" y="28.20" font-size="13" font-weight="bold" text-anchor="middle" fill="#0d0d0d" >TCNF first</text>
<text x="483.80" y="122.30" font-size="13" font-weight="bold" text-anchor="middle" fill="#0d0d0d" transform="rotate(-90 483.80 122.30)" stroke="#0d0d0d" stroke-width="0.3" >ζ (mV)</text>
<text x="603.20" y="273.60" font-size="16" font-weight="bold" text-anchor="middle" fill="#0d0d0d" >(c)</text>
<g stroke="#161616" stroke-width="1.3" fill="none">
<path d="M37.50 334.70 V510.40"/>
<path d="M36.90 509.80 H236.75"/>
<path d="M37.50 509.80 h-2.4"/>
<path d="M37.50 474.90 h-2.4"/>
<path d="M37.50 440.00 h-2.4"/>
<path d="M37.50 405.10 h-2.4"/>
<path d="M37.50 370.20 h-2.4"/>
<path d="M37.50 335.30 h-2.4"/>
<path d="M55.40 509.80 v5.7"/>
<path d="M91.55 509.80 v5.7"/>
<path d="M127.70 509.80 v5.7"/>
<path d="M163.85 509.80 v5.7"/>
<path d="M200.00 509.80 v5.7"/>
<path d="M236.15 509.80 v5.7"/>
<path d="M73.47 509.80 v3.3"/>
<path d="M109.62 509.80 v3.3"/>
<path d="M145.78 509.80 v3.3"/>
<path d="M181.92 509.80 v3.3"/>
<path d="M218.07 509.80 v3.3"/>
</g>
<text x="34.50" y="514.40" font-size="13.4" font-weight="normal" text-anchor="end" fill="#0d0d0d" >0</text>
<text x="34.50" y="479.50" font-size="13.4" font-weight="normal" text-anchor="end" fill="#0d0d0d" >4</text>
<text x="34.50" y="444.60" font-size="13.4" font-weight="normal" text-anchor="end" fill="#0d0d0d" >8</text>
<text x="34.50" y="409.70" font-size="13.4" font-weight="normal" text-anchor="end" fill="#0d0d0d" >12</text>
<text x="34.50" y="374.80" font-size="13.4" font-weight="normal" text-anchor="end" fill="#0d0d0d" >16</text>
<text x="34.50" y="339.90" font-size="13.4" font-weight="normal" text-anchor="end" fill="#0d0d0d" >20</text>
<text x="55.40" y="529.40" font-size="13.4" font-weight="normal" text-anchor="middle" fill="#0d0d0d" >20</text>
<text x="91.55" y="529.40" font-size="13.4" font-weight="normal" text-anchor="middle" fill="#0d0d0d" >40</text>
<text x="127.70" y="529.40" font-size="13.4" font-weight="normal" text-anchor="middle" fill="#0d0d0d" >60</text>
<text x="163.85" y="529.40" font-size="13.4" font-weight="normal" text-anchor="middle" fill="#0d0d0d" >80</text>
<text x="200.00" y="529.40" font-size="13.4" font-weight="normal" text-anchor="middle" fill="#0d0d0d" >100</text>
<text x="236.15" y="529.40" font-size="13.4" font-weight="normal" text-anchor="middle" fill="#0d0d0d" >120</text>
<text x="136.80" y="552.40" font-size="13" font-weight="bold" text-anchor="middle" fill="#0d0d0d" >γ (1/s)</text>
<text x="120.90" y="552.00" font-size="13" font-weight="bold" text-anchor="middle" fill="#0d0d0d" >˙</text>
<text x="10.60" y="422.40" font-size="13" font-weight="bold" text-anchor="middle" fill="#0d0d0d" transform="rotate(-90 10.60 422.40)" stroke="#0d0d0d" stroke-width="0.3" >η (mPa-s)</text>
<path d="M65.20 345.20 L95.00 370.20 L143.00 390.30 L221.70 406.20" fill="none" stroke="#e8401a" stroke-width="0.9"/>
<circle cx="65.20" cy="345.20" r="3.30" fill="#e8401a"/>
<circle cx="95.00" cy="370.20" r="3.30" fill="#e8401a"/>
<circle cx="143.00" cy="390.30" r="3.30" fill="#e8401a"/>
<circle cx="221.70" cy="406.20" r="3.30" fill="#e8401a"/>
<path d="M65.20 438.10 L95.00 445.80 L143.00 451.80 L221.70 454.20" fill="none" stroke="#000000" stroke-width="0.9"/>
<rect x="62.40" y="435.30" width="5.60" height="5.60" fill="#000000"/>
<rect x="92.20" y="443.00" width="5.60" height="5.60" fill="#000000"/>
<rect x="140.20" y="449.00" width="5.60" height="5.60" fill="#000000"/>
<rect x="218.90" y="451.40" width="5.60" height="5.60" fill="#000000"/>
<path d="M65.20 468.70 L95.00 469.40 L143.00 470.00 L221.70 468.70" fill="none" stroke="#6fc21a" stroke-width="0.9"/>
<path d="M65.20 464.62 L68.90 471.42 L61.50 471.42 Z" fill="#6fc21a"/>
<path d="M95.00 465.32 L98.70 472.12 L91.30 472.12 Z" fill="#6fc21a"/>
<path d="M143.00 465.92 L146.70 472.72 L139.30 472.72 Z" fill="#6fc21a"/>
<path d="M221.70 464.62 L225.40 471.42 L218.00 471.42 Z" fill="#6fc21a"/>
<text x="123.40" y="583.80" font-size="16" font-weight="bold" text-anchor="middle" fill="#0d0d0d" >(d)</text>
<rect x="232.4" y="305.6" width="295.1" height="18.5" fill="#fff" stroke="#555" stroke-width="0.9"/>
<path d="M235.60 315.1 h28.2" stroke="#000000" stroke-width="0.75"/>
<rect x="246.90" y="312.30" width="5.60" height="5.60" fill="#000000"/>
<text x="268.80" y="319.80" font-size="13" font-weight="normal" text-anchor="start" fill="#0d0d0d" >Simultaneous</text>
<path d="M348.70 315.1 h28.2" stroke="#e8401a" stroke-width="0.75"/>
<circle cx="362.80" cy="315.10" r="3.30" fill="#e8401a"/>
<text x="381.90" y="319.80" font-size="13" font-weight="normal" text-anchor="start" fill="#0d0d0d" >LNP first</text>
<path d="M433.30 315.1 h28.2" stroke="#6fc21a" stroke-width="0.75"/>
<path d="M447.40 311.02 L451.10 317.82 L443.70 317.82 Z" fill="#6fc21a"/>
<text x="466.50" y="319.80" font-size="13" font-weight="normal" text-anchor="start" fill="#0d0d0d" >TCNF first</text>
<g stroke="#161616" stroke-width="1.3" fill="none">
<path d="M295.00 334.80 V510.40"/>
<path d="M294.40 509.80 H493.80"/>
<path d="M295.00 509.80 h-4.2"/>
<path d="M295.00 484.87 h-4.2"/>
<path d="M295.00 459.94 h-4.2"/>
<path d="M295.00 435.01 h-4.2"/>
<path d="M295.00 410.08 h-4.2"/>
<path d="M295.00 385.15 h-4.2"/>
<path d="M295.00 360.22 h-4.2"/>
<path d="M295.00 335.29 h-4.2"/>
<path d="M308.90 509.80 v5.7"/>
<path d="M337.42 509.80 v5.7"/>
<path d="M365.93 509.80 v5.7"/>
<path d="M394.45 509.80 v5.7"/>
<path d="M422.97 509.80 v5.7"/>
<path d="M451.48 509.80 v5.7"/>
<path d="M480.00 509.80 v5.7"/>
<path d="M323.16 509.80 v3.3"/>
<path d="M351.67 509.80 v3.3"/>
<path d="M380.19 509.80 v3.3"/>
<path d="M408.71 509.80 v3.3"/>
<path d="M437.22 509.80 v3.3"/>
<path d="M465.74 509.80 v3.3"/>
<path d="M493.69 509.80 v3.3"/>
</g>
<text x="289.50" y="514.40" font-size="13.4" font-weight="normal" text-anchor="end" fill="#0d0d0d" >0</text>
<text x="289.50" y="489.47" font-size="13.4" font-weight="normal" text-anchor="end" fill="#0d0d0d" >1</text>
<text x="289.50" y="464.54" font-size="13.4" font-weight="normal" text-anchor="end" fill="#0d0d0d" >2</text>
<text x="289.50" y="439.61" font-size="13.4" font-weight="normal" text-anchor="end" fill="#0d0d0d" >3</text>
<text x="289.50" y="414.68" font-size="13.4" font-weight="normal" text-anchor="end" fill="#0d0d0d" >4</text>
<text x="289.50" y="389.75" font-size="13.4" font-weight="normal" text-anchor="end" fill="#0d0d0d" >5</text>
<text x="289.50" y="364.82" font-size="13.4" font-weight="normal" text-anchor="end" fill="#0d0d0d" >6</text>
<text x="289.50" y="339.89" font-size="13.4" font-weight="normal" text-anchor="end" fill="#0d0d0d" >7</text>
<text x="308.90" y="529.60" font-size="13.4" font-weight="normal" text-anchor="middle" fill="#0d0d0d" >0</text>
<text x="337.42" y="529.60" font-size="13.4" font-weight="normal" text-anchor="middle" fill="#0d0d0d" >5</text>
<text x="365.93" y="529.60" font-size="13.4" font-weight="normal" text-anchor="middle" fill="#0d0d0d" >10</text>
<text x="394.45" y="529.60" font-size="13.4" font-weight="normal" text-anchor="middle" fill="#0d0d0d" >15</text>
<text x="422.97" y="529.60" font-size="13.4" font-weight="normal" text-anchor="middle" fill="#0d0d0d" >20</text>
<text x="451.48" y="529.60" font-size="13.4" font-weight="normal" text-anchor="middle" fill="#0d0d0d" >25</text>
<text x="480.00" y="529.60" font-size="13.4" font-weight="normal" text-anchor="middle" fill="#0d0d0d" >30</text>
<text x="394.40" y="552.60" font-size="13" font-weight="bold" text-anchor="middle" fill="#0d0d0d" >Storage time (Days)</text>
<path d="M308.90 498.58 L314.60 498.58 L331.71 498.33 L354.53 498.33 L377.34 498.33 L394.45 497.71 L422.97 498.33 L451.48 497.71 L480.00 497.34" fill="none" stroke="#000000" stroke-width="0.7"/>
<rect x="306.80" y="496.48" width="4.20" height="4.20" fill="#000000"/>
<rect x="312.50" y="496.48" width="4.20" height="4.20" fill="#000000"/>
<rect x="329.61" y="496.23" width="4.20" height="4.20" fill="#000000"/>
<rect x="352.43" y="496.23" width="4.20" height="4.20" fill="#000000"/>
<rect x="375.24" y="496.23" width="4.20" height="4.20" fill="#000000"/>
<rect x="392.35" y="495.61" width="4.20" height="4.20" fill="#000000"/>
<rect x="420.87" y="496.23" width="4.20" height="4.20" fill="#000000"/>
<rect x="449.38" y="495.61" width="4.20" height="4.20" fill="#000000"/>
<rect x="477.90" y="495.24" width="4.20" height="4.20" fill="#000000"/>
<path d="M308.90 490.93 L314.60 490.60 L331.71 490.11 L354.53 490.60 L377.34 489.11 L394.45 490.11 L422.97 488.61 L451.48 487.99 L480.00 486.49" fill="none" stroke="#e8401a" stroke-width="0.7"/>
<circle cx="308.90" cy="490.93" r="2.40" fill="#e8401a"/>
<circle cx="314.60" cy="490.60" r="2.40" fill="#e8401a"/>
<circle cx="331.71" cy="490.11" r="2.40" fill="#e8401a"/>
<circle cx="354.53" cy="490.60" r="2.40" fill="#e8401a"/>
<circle cx="377.34" cy="489.11" r="2.40" fill="#e8401a"/>
<circle cx="394.45" cy="490.11" r="2.40" fill="#e8401a"/>
<circle cx="422.97" cy="488.61" r="2.40" fill="#e8401a"/>
<circle cx="451.48" cy="487.99" r="2.40" fill="#e8401a"/>
<circle cx="480.00" cy="486.49" r="2.40" fill="#e8401a"/>
<path d="M309.00 425.10 L314.70 391.50 L354.50 350.80 L377.10 391.90 L394.50 402.60 L423.10 390.20 L451.30 406.40 L479.90 428.90" fill="none" stroke="#6fc21a" stroke-width="0.7"/>
<path d="M309.00 422.12 L311.70 427.09 L306.30 427.09 Z" fill="#6fc21a"/>
<path d="M314.70 388.52 L317.40 393.49 L312.00 393.49 Z" fill="#6fc21a"/>
<path d="M354.50 347.82 L357.20 352.79 L351.80 352.79 Z" fill="#6fc21a"/>
<path d="M377.10 388.92 L379.80 393.89 L374.40 393.89 Z" fill="#6fc21a"/>
<path d="M394.50 399.62 L397.20 404.59 L391.80 404.59 Z" fill="#6fc21a"/>
<path d="M423.10 387.22 L425.80 392.19 L420.40 392.19 Z" fill="#6fc21a"/>
<path d="M451.30 403.42 L454.00 408.39 L448.60 408.39 Z" fill="#6fc21a"/>
<path d="M479.90 425.92 L482.60 430.89 L477.20 430.89 Z" fill="#6fc21a"/>
<text transform="rotate(-90 262.6 422.5)" x="262.6" y="422.5" font-size="13" font-weight="bold" text-anchor="middle" fill="#0d0d0d" stroke="#0d0d0d" stroke-width="0.3"><tspan font-style="italic">D</tspan><tspan font-size="9" font-style="italic" dy="3">(4,3)</tspan><tspan dy="-3"> (µm)</tspan></text>
<text x="376.80" y="583.80" font-size="16" font-weight="bold" text-anchor="middle" fill="#0d0d0d" >(e)</text>
<g stroke="#161616" stroke-width="1.3" fill="none">
<path d="M546.20 334.60 V510.70"/>
<path d="M545.60 510.10 H744.50"/>
<path d="M546.20 496.30 h-4.2"/>
<path d="M546.20 469.45 h-4.2"/>
<path d="M546.20 442.60 h-4.2"/>
<path d="M546.20 415.75 h-4.2"/>
<path d="M546.20 388.90 h-4.2"/>
<path d="M546.20 362.05 h-4.2"/>
<path d="M546.20 335.20 h-4.2"/>
<path d="M559.80 510.10 v5.7"/>
<path d="M588.28 510.10 v5.7"/>
<path d="M616.77 510.10 v5.7"/>
<path d="M645.25 510.10 v5.7"/>
<path d="M673.73 510.10 v5.7"/>
<path d="M702.22 510.10 v5.7"/>
<path d="M730.70 510.10 v5.7"/>
<path d="M574.04 510.10 v3.3"/>
<path d="M602.52 510.10 v3.3"/>
<path d="M631.01 510.10 v3.3"/>
<path d="M659.49 510.10 v3.3"/>
<path d="M687.97 510.10 v3.3"/>
<path d="M716.46 510.10 v3.3"/>
<path d="M744.37 510.10 v3.3"/>
</g>
<text x="539.90" y="500.90" font-size="13.4" font-weight="normal" text-anchor="end" fill="#0d0d0d" >0</text>
<text x="539.90" y="474.05" font-size="13.4" font-weight="normal" text-anchor="end" fill="#0d0d0d" >10</text>
<text x="539.90" y="447.20" font-size="13.4" font-weight="normal" text-anchor="end" fill="#0d0d0d" >20</text>
<text x="539.90" y="420.35" font-size="13.4" font-weight="normal" text-anchor="end" fill="#0d0d0d" >30</text>
<text x="539.90" y="393.50" font-size="13.4" font-weight="normal" text-anchor="end" fill="#0d0d0d" >40</text>
<text x="539.90" y="366.65" font-size="13.4" font-weight="normal" text-anchor="end" fill="#0d0d0d" >50</text>
<text x="539.90" y="339.80" font-size="13.4" font-weight="normal" text-anchor="end" fill="#0d0d0d" >60</text>
<text x="559.80" y="529.40" font-size="13.4" font-weight="normal" text-anchor="middle" fill="#0d0d0d" >0</text>
<text x="588.28" y="529.40" font-size="13.4" font-weight="normal" text-anchor="middle" fill="#0d0d0d" >5</text>
<text x="616.77" y="529.40" font-size="13.4" font-weight="normal" text-anchor="middle" fill="#0d0d0d" >10</text>
<text x="645.25" y="529.40" font-size="13.4" font-weight="normal" text-anchor="middle" fill="#0d0d0d" >15</text>
<text x="673.73" y="529.40" font-size="13.4" font-weight="normal" text-anchor="middle" fill="#0d0d0d" >20</text>
<text x="702.22" y="529.40" font-size="13.4" font-weight="normal" text-anchor="middle" fill="#0d0d0d" >25</text>
<text x="730.70" y="529.40" font-size="13.4" font-weight="normal" text-anchor="middle" fill="#0d0d0d" >30</text>
<text x="645.00" y="552.80" font-size="13" font-weight="bold" text-anchor="middle" fill="#0d0d0d" >Storage time (Days)</text>
<text x="520.50" y="422.70" font-size="13" font-weight="bold" text-anchor="middle" fill="#0d0d0d" transform="rotate(-90 520.50 422.70)" stroke="#0d0d0d" stroke-width="0.3" >TSI</text>
<path d="M559.80 496.03 L565.50 485.29 L582.59 461.13 L605.37 434.81 L628.16 417.09 L645.25 409.04 L673.73 400.18 L702.22 397.49 L730.70 397.22" fill="none" stroke="#000000" stroke-width="0.7"/>
<rect x="557.70" y="493.93" width="4.20" height="4.20" fill="#000000"/>
<rect x="563.40" y="483.19" width="4.20" height="4.20" fill="#000000"/>
<rect x="580.49" y="459.03" width="4.20" height="4.20" fill="#000000"/>
<rect x="603.27" y="432.71" width="4.20" height="4.20" fill="#000000"/>
<rect x="626.06" y="414.99" width="4.20" height="4.20" fill="#000000"/>
<rect x="643.15" y="406.94" width="4.20" height="4.20" fill="#000000"/>
<rect x="671.63" y="398.08" width="4.20" height="4.20" fill="#000000"/>
<rect x="700.12" y="395.39" width="4.20" height="4.20" fill="#000000"/>
<rect x="728.60" y="395.12" width="4.20" height="4.20" fill="#000000"/>
<path d="M559.80 496.30 L565.50 455.22 L582.59 431.05 L605.37 408.23 L628.16 394.81 L645.25 385.95 L673.73 373.86 L702.22 369.30 L730.70 364.47" fill="none" stroke="#e8401a" stroke-width="0.7"/>
<circle cx="559.80" cy="496.30" r="2.40" fill="#e8401a"/>
<circle cx="565.50" cy="455.22" r="2.40" fill="#e8401a"/>
<circle cx="582.59" cy="431.05" r="2.40" fill="#e8401a"/>
<circle cx="605.37" cy="408.23" r="2.40" fill="#e8401a"/>
<circle cx="628.16" cy="394.81" r="2.40" fill="#e8401a"/>
<circle cx="645.25" cy="385.95" r="2.40" fill="#e8401a"/>
<circle cx="673.73" cy="373.86" r="2.40" fill="#e8401a"/>
<circle cx="702.22" cy="369.30" r="2.40" fill="#e8401a"/>
<circle cx="730.70" cy="364.47" r="2.40" fill="#e8401a"/>
<path d="M559.80 496.57 L565.50 469.29 L582.59 393.46 L605.37 376.82 L628.16 367.15 L645.25 360.44 L673.73 352.38 L702.22 349.43 L730.70 347.28" fill="none" stroke="#6fc21a" stroke-width="0.7"/>
<path d="M559.80 493.59 L562.50 498.56 L557.10 498.56 Z" fill="#6fc21a"/>
<path d="M565.50 466.31 L568.20 471.28 L562.80 471.28 Z" fill="#6fc21a"/>
<path d="M582.59 390.48 L585.29 395.45 L579.89 395.45 Z" fill="#6fc21a"/>
<path d="M605.37 373.84 L608.07 378.80 L602.67 378.80 Z" fill="#6fc21a"/>
<path d="M628.16 364.17 L630.86 369.14 L625.46 369.14 Z" fill="#6fc21a"/>
<path d="M645.25 357.46 L647.95 362.43 L642.55 362.43 Z" fill="#6fc21a"/>
<path d="M673.73 349.40 L676.43 354.37 L671.03 354.37 Z" fill="#6fc21a"/>
<path d="M702.22 346.45 L704.92 351.42 L699.52 351.42 Z" fill="#6fc21a"/>
<path d="M730.70 344.30 L733.40 349.27 L728.00 349.27 Z" fill="#6fc21a"/>
<text x="601.50" y="583.80" font-size="16" font-weight="bold" text-anchor="middle" fill="#0d0d0d" >(f)</text>
<rect x="32.6" y="600.5" width="353.9" height="213.3" fill="none" stroke="#111" stroke-width="1.3" stroke-dasharray="3 2.09"/>
<rect x="389.8" y="600.4" width="353.5" height="213.4" fill="none" stroke="#111" stroke-width="1.35" stroke-dasharray="2.95 2.2"/>
<text x="151.30" y="618.60" font-size="10.4" font-weight="bold" text-anchor="middle" fill="#111" textLength="51.0" lengthAdjust="spacingAndGlyphs" >LNPs first</text>
<text x="152.80" y="630.40" font-size="10.4" font-weight="bold" text-anchor="middle" fill="#111" textLength="136.6" lengthAdjust="spacingAndGlyphs" >LNPs + TCNF simultaneous</text>
<text x="511.20" y="618.60" font-size="10.4" font-weight="bold" text-anchor="middle" fill="#111" textLength="50.5" lengthAdjust="spacingAndGlyphs" >TCNF first</text>
<g clip-path="url(#cpL)">
<rect x="55.9" y="637.3" width="198.9" height="143.2" fill="#c8f0ee"/>
<path d="M93.23 636.03 L89.61 649.10 L103.69 672.23 L128.02 681.68 L152.15 686.30 L179.26 681.27 L200.78 668.20 L213.45 648.50 L210.43 636.03 Z" fill="#eedcbf"/>
<path d="M87.20 782.82 L87.20 768.74 L102.88 747.23 L122.99 733.55 L147.52 728.53 L173.66 731.54 L194.75 746.62 L209.02 768.34 L209.02 782.82 Z" fill="#eedcbf"/>
</g><g>
<path d="M72.52 644.48 C70.95 644.48 65.48 643.54 63.07 644.48 C60.66 645.42 58.61 647.49 58.04 650.11 C57.47 652.72 58.48 657.55 59.65 660.16 C60.82 662.78 63.00 665.46 65.08 665.79 C67.16 666.13 69.60 663.04 72.12 662.17 C74.63 661.30 77.65 659.73 80.16 660.56 C82.67 661.40 85.86 665.09 87.20 667.20 C88.54 669.31 89.38 671.79 88.20 673.23 C87.03 674.67 82.91 675.28 80.16 675.84 C77.41 676.41 73.29 675.64 71.72 676.65 C70.14 677.65 70.14 680.27 70.71 681.88 C71.28 683.49 73.22 686.17 75.13 686.30 C77.04 686.43 79.66 683.08 82.17 682.68 C84.69 682.28 87.80 682.78 90.21 683.89 C92.63 684.99 95.41 687.57 96.65 689.32 C97.89 691.06 97.49 693.51 97.65 694.34" fill="none" stroke="#2b6e12" stroke-width="5.1" stroke-linecap="butt" stroke-linejoin="round"/>
<path d="M67.09 728.53 C68.77 727.02 74.53 723.00 77.14 719.48 C79.76 715.96 81.54 711.10 82.78 707.41 C84.01 703.73 83.68 700.11 84.58 697.36 C85.49 694.61 85.93 692.27 88.20 690.93 C90.48 689.58 93.57 688.41 98.26 689.32 C102.95 690.22 110.32 694.51 116.35 696.35 C122.39 698.20 128.08 699.54 134.45 700.38 C140.82 701.21 148.86 701.72 154.56 701.38 C160.26 701.05 165.35 700.21 168.63 698.37 C171.92 696.52 173.33 691.66 174.26 690.32" fill="none" stroke="#2b6e12" stroke-width="5.1" stroke-linecap="butt" stroke-linejoin="round"/>
<path d="M69.10 781.21 C68.77 778.79 68.77 770.32 67.09 766.73 C65.42 763.14 60.89 762.37 59.05 759.69 C57.21 757.01 55.53 753.56 56.03 750.64 C56.53 747.73 58.04 745.01 62.06 742.20 C66.09 739.38 72.79 737.21 80.16 733.75 C87.53 730.30 97.92 725.78 106.30 721.49 C114.68 717.20 124.06 711.87 130.43 708.02 C136.80 704.16 141.15 700.98 144.50 698.37 C147.86 695.75 149.53 693.34 150.54 692.33" fill="none" stroke="#2b6e12" stroke-width="5.1" stroke-linecap="butt" stroke-linejoin="round"/>
<path d="M105.30 711.43 C107.14 711.60 113.17 712.94 116.35 712.44 C119.54 711.94 122.55 711.10 124.40 708.42 C126.24 705.74 126.91 698.37 127.41 696.35" fill="none" stroke="#2b6e12" stroke-width="5.1" stroke-linecap="butt" stroke-linejoin="round"/>
<path d="M141.49 708.42 C143.33 709.09 148.69 711.77 152.55 712.44 C156.40 713.11 160.26 712.61 164.61 712.44 C168.97 712.27 175.00 710.43 178.69 711.43 C182.37 712.44 184.89 714.62 186.73 718.47 C188.57 722.33 189.24 731.88 189.75 734.56" fill="none" stroke="#2b6e12" stroke-width="5.1" stroke-linecap="butt" stroke-linejoin="round"/>
<path d="M160.16 686.90 C161.50 687.31 165.19 687.74 168.20 689.32 C171.22 690.89 174.24 694.51 178.26 696.35 C182.28 698.20 187.98 700.54 192.33 700.38 C196.69 700.21 201.05 697.76 204.40 695.35 C207.75 692.94 211.10 687.47 212.44 685.90" fill="none" stroke="#2b6e12" stroke-width="5.1" stroke-linecap="butt" stroke-linejoin="round"/>
<path d="M229.53 651.72 C231.04 651.11 235.06 648.70 238.58 648.10 C242.10 647.49 247.80 647.09 250.64 648.10 C253.49 649.10 255.67 652.29 255.67 654.13 C255.67 655.97 253.49 658.15 250.64 659.16 C247.80 660.16 242.60 658.99 238.58 660.16 C234.56 661.33 229.36 663.51 226.52 666.19 C223.67 668.87 221.82 673.23 221.49 676.25 C221.15 679.26 222.33 682.28 224.50 684.29 C226.68 686.30 231.37 687.31 234.56 688.31 C237.74 689.32 242.27 688.65 243.61 690.32 C244.95 692.00 244.11 695.68 242.60 698.37 C241.09 701.05 238.24 704.06 234.56 706.41 C230.87 708.75 225.85 710.70 220.48 712.44 C215.12 714.18 205.40 716.13 202.39 716.86" fill="none" stroke="#2b6e12" stroke-width="5.1" stroke-linecap="butt" stroke-linejoin="round"/>
<path d="M205.40 751.65 C207.58 750.98 213.61 748.80 218.47 747.63 C223.33 746.46 230.70 744.11 234.56 744.61 C238.41 745.11 241.26 747.96 241.60 750.64 C241.93 753.33 237.74 757.35 236.57 760.70 C235.40 764.05 233.55 767.57 234.56 770.75 C235.56 773.94 241.26 778.29 242.60 779.80" fill="none" stroke="#2b6e12" stroke-width="5.1" stroke-linecap="butt" stroke-linejoin="round"/>
<circle cx="89.61" cy="649.10" r="11.46" fill="url(#lnp)"/>
<circle cx="103.69" cy="672.23" r="10.46" fill="url(#lnp)"/>
<circle cx="128.02" cy="681.68" r="12.06" fill="url(#lnp)"/>
<circle cx="152.15" cy="686.30" r="10.66" fill="url(#lnp)"/>
<circle cx="68.10" cy="702.39" r="12.06" fill="url(#lnp)"/>
<circle cx="94.64" cy="713.04" r="10.66" fill="url(#lnp)"/>
<circle cx="122.99" cy="733.55" r="12.06" fill="url(#lnp)"/>
<circle cx="147.52" cy="728.53" r="11.06" fill="url(#lnp)"/>
<circle cx="173.66" cy="731.54" r="12.06" fill="url(#lnp)"/>
<circle cx="102.88" cy="747.23" r="10.66" fill="url(#lnp)"/>
<circle cx="87.20" cy="768.74" r="12.06" fill="url(#lnp)"/>
<circle cx="213.45" cy="648.50" r="10.46" fill="url(#lnp)"/>
<circle cx="200.78" cy="668.20" r="11.66" fill="url(#lnp)"/>
<circle cx="179.26" cy="681.27" r="12.06" fill="url(#lnp)"/>
<circle cx="241.19" cy="671.82" r="12.06" fill="url(#lnp)"/>
<circle cx="215.86" cy="723.10" r="11.06" fill="url(#lnp)"/>
<circle cx="240.59" cy="728.93" r="12.06" fill="url(#lnp)"/>
<circle cx="194.75" cy="746.62" r="11.46" fill="url(#lnp)"/>
<circle cx="209.02" cy="768.34" r="10.66" fill="url(#lnp)"/>
</g>
<text x="150.00" y="656.30" font-size="10.8" font-weight="bold" text-anchor="middle" fill="#111" >Oil</text>
<text x="149.50" y="770.20" font-size="10.8" font-weight="bold" text-anchor="middle" fill="#111" >Oil</text>
<circle cx="66.40" cy="796.80" r="8.00" fill="url(#lnp)"/>
<text x="86.10" y="799.90" font-size="8.6" font-weight="bold" text-anchor="start" fill="#111" textLength="22.0" lengthAdjust="spacingAndGlyphs" >LNPs</text>
<path d="M142.7 802 C141.5 796 143 792.5 149 793.5 C156 794.8 163 793.5 167.3 789.8" fill="none" stroke="#2b6e12" stroke-width="2.1"/>
<text x="187.30" y="796.50" font-size="8.6" font-weight="bold" text-anchor="start" fill="#111" textLength="22.5" lengthAdjust="spacingAndGlyphs" >TCNF</text>
<path d="M276.11 677.20 C278.63 676.29 286.33 673.21 291.19 671.77 C296.05 670.33 301.25 668.82 305.27 668.55 C309.29 668.28 312.31 669.16 315.32 670.16 C318.34 671.17 320.68 672.24 323.37 674.58 C326.05 676.93 328.73 681.62 331.41 684.24 C334.09 686.85 336.10 688.76 339.45 690.27 C342.80 691.78 347.16 692.11 351.52 693.28 C355.87 694.46 361.90 695.53 365.59 697.31 C369.28 699.08 372.36 701.09 373.63 703.94 C374.91 706.79 373.80 711.31 373.23 714.40 C372.66 717.48 370.55 719.93 370.22 722.44 C369.88 724.95 370.22 727.37 371.22 729.48 C372.23 731.59 375.41 734.17 376.25 735.11" fill="none" stroke="#2b6e12" stroke-width="5.0" stroke-linecap="butt" stroke-linejoin="round"/>
<circle cx="303.70" cy="704.30" r="12.00" fill="url(#lnp)"/>
<rect x="277.53" y="665.89" width="5.20" height="1.3" fill="#111"/>
<rect x="300.66" y="662.47" width="5.20" height="1.3" fill="#111"/>
<rect x="322.78" y="665.89" width="5.20" height="1.3" fill="#111"/>
<rect x="277.53" y="680.97" width="5.20" height="1.3" fill="#111"/>
<rect x="293.22" y="676.55" width="5.20" height="1.3" fill="#111"/>
<rect x="311.31" y="675.54" width="5.20" height="1.3" fill="#111"/>
<rect x="337.86" y="679.56" width="5.20" height="1.3" fill="#111"/>
<rect x="292.61" y="688.61" width="5.20" height="1.3" fill="#111"/>
<rect x="308.10" y="689.02" width="5.20" height="1.3" fill="#111"/>
<rect x="327.80" y="691.63" width="5.20" height="1.3" fill="#111"/>
<rect x="350.52" y="685.19" width="5.20" height="1.3" fill="#111"/>
<rect x="368.02" y="690.62" width="5.20" height="1.3" fill="#111"/>
<rect x="316.74" y="699.07" width="5.20" height="1.3" fill="#111"/>
<rect x="340.87" y="699.07" width="5.20" height="1.3" fill="#111"/>
<rect x="355.55" y="702.29" width="5.20" height="1.3" fill="#111"/>
<rect x="378.07" y="705.10" width="5.20" height="1.3" fill="#111"/>
<rect x="285.18" y="701.68" width="5.20" height="1.3" fill="#111"/>
<rect x="288.19" y="714.75" width="5.20" height="1.3" fill="#111"/>
<rect x="302.27" y="719.78" width="5.20" height="1.3" fill="#111"/>
<rect x="314.33" y="713.35" width="5.20" height="1.3" fill="#111"/>
<rect x="360.98" y="711.74" width="5.20" height="1.3" fill="#111"/>
<rect x="359.97" y="724.81" width="5.20" height="1.3" fill="#111"/>
<rect x="377.47" y="723.40" width="5.20" height="1.3" fill="#111"/>
<rect x="364.60" y="736.27" width="5.20" height="1.3" fill="#111"/>
<path d="M320.28 726.79 L336.51 707.64" stroke="#4472c4" stroke-width="1.5"/>
<path d="M338.45 705.35 L336.23 712.91 L331.35 708.77 Z M318.34 729.08 L320.55 721.51 L325.43 725.65 Z" fill="#4472c4"/>
<text x="321.80" y="759.20" font-size="10.6" font-weight="normal" text-anchor="middle" fill="#0c0c0c" textLength="100.5" lengthAdjust="spacingAndGlyphs" >Electrostatic repulsion</text>
<text x="321.80" y="770.73" font-size="10.6" font-weight="normal" text-anchor="middle" fill="#0c0c0c" textLength="113.0" lengthAdjust="spacingAndGlyphs" >between LNPs and TCNF</text>
<text x="321.80" y="782.26" font-size="10.6" font-weight="normal" text-anchor="middle" fill="#0c0c0c" textLength="118.6" lengthAdjust="spacingAndGlyphs" >making LNPs available for</text>
<text x="321.80" y="793.79" font-size="10.6" font-weight="normal" text-anchor="middle" fill="#0c0c0c" textLength="97.0" lengthAdjust="spacingAndGlyphs" >interfacial adsorption</text>
<g clip-path="url(#cpR)">
<rect x="413.9" y="637.3" width="199.1" height="143.2" fill="#c8f0ee"/>
<path d="M450.21 634.68 C450.39 636.24 450.62 641.16 451.29 644.06 C451.96 646.97 452.85 649.43 454.24 652.11 C455.62 654.79 457.14 657.47 459.60 660.15 C462.06 662.83 465.63 665.96 468.98 668.19 C472.33 670.43 476.13 671.99 479.71 673.55 C483.28 675.12 486.63 676.41 490.43 677.58 C494.23 678.74 499.29 679.49 502.49 680.53 C505.70 681.56 506.58 683.52 509.65 683.80 C512.72 684.07 517.16 682.91 520.91 682.19 C524.66 681.46 527.88 680.85 532.17 679.45 C536.46 678.06 542.36 676.10 546.65 673.82 C550.94 671.54 554.69 668.73 557.91 665.78 C561.13 662.83 563.94 659.35 565.95 656.13 C567.96 652.91 569.03 649.96 569.97 646.48 C570.91 642.99 571.31 637.09 571.58 635.22 Z" fill="#eedcbf"/>
<path d="M451.29 782.43 C451.51 780.64 451.69 775.06 452.63 771.71 C453.57 768.35 454.64 765.23 456.92 762.32 C459.20 759.42 462.95 756.96 466.30 754.28 C469.65 751.60 473.00 748.81 477.02 746.24 C481.05 743.67 485.96 740.70 490.43 738.86 C494.90 737.03 500.63 735.60 503.83 735.24 C507.04 734.89 506.81 736.33 509.65 736.75 C512.50 737.16 517.16 736.93 520.91 737.71 C524.66 738.49 527.61 739.32 532.17 741.41 C536.73 743.50 543.43 746.91 548.26 750.26 C553.08 753.61 557.64 757.76 561.13 761.52 C564.61 765.27 567.37 769.02 569.17 772.78 C570.96 776.53 571.45 782.16 571.90 784.04 Z" fill="#eedcbf"/>
</g><g>
<path d="M446.86 637.63 C447.20 638.70 448.09 641.87 448.87 644.06 C449.66 646.25 450.77 648.53 451.55 650.77 C452.34 653.00 452.67 655.46 453.57 657.47 C454.46 659.48 455.24 661.04 456.92 662.83 C458.59 664.62 461.39 666.63 463.62 668.19 C465.85 669.76 469.20 671.54 470.32 672.21" fill="none" stroke="#2b6e12" stroke-width="5.1" stroke-linecap="butt" stroke-linejoin="round"/>
<path d="M443.51 646.08 C443.96 647.30 445.19 650.99 446.19 653.45 C447.20 655.91 448.20 658.47 449.54 660.82 C450.88 663.17 452.34 665.51 454.24 667.52 C456.13 669.53 458.70 671.54 460.94 672.88 C463.17 674.23 465.18 675.01 467.64 675.57 C470.10 676.12 473.23 675.68 475.68 676.24 C478.14 676.79 480.38 677.80 482.39 678.92 C484.40 680.03 485.74 681.93 487.75 682.94 C489.76 683.94 491.88 684.95 494.45 684.95 C497.02 684.95 501.71 683.27 503.16 682.94" fill="none" stroke="#2b6e12" stroke-width="5.1" stroke-linecap="butt" stroke-linejoin="round"/>
<path d="M422.06 685.62 C422.96 684.90 424.97 682.40 427.43 681.33 C429.88 680.26 433.46 679.54 436.81 679.18 C440.16 678.83 443.51 678.89 447.53 679.18 C451.55 679.48 456.69 680.08 460.94 680.93 C465.18 681.78 469.43 683.05 473.00 684.28 C476.58 685.51 479.48 686.96 482.39 688.30 C485.29 689.64 487.75 691.43 490.43 692.32 C493.11 693.22 496.24 693.77 498.47 693.66 C500.71 693.55 502.94 692.01 503.83 691.65 C504.73 691.29 502.84 692.53 503.86 691.52 C504.88 690.50 507.94 686.91 509.97 685.57 C512.01 684.22 513.73 683.96 516.09 683.47 C518.44 682.99 521.31 683.21 524.13 682.67 C526.94 682.13 531.50 680.66 532.98 680.26" fill="none" stroke="#2b6e12" stroke-width="5.1" stroke-linecap="butt" stroke-linejoin="round"/>
<path d="M450.21 697.68 C450.21 698.58 449.54 701.59 450.21 703.05 C450.88 704.50 452.00 705.79 454.24 706.40 C456.47 707.00 460.49 706.53 463.62 706.69 C466.75 706.85 470.77 706.58 473.00 707.36 C475.24 708.14 476.24 709.60 477.02 711.38 C477.81 713.17 476.80 716.75 477.69 718.09 C478.59 719.43 480.26 719.87 482.39 719.43 C484.51 718.98 487.30 716.63 490.43 715.40 C493.56 714.18 497.89 712.72 501.15 712.05 C504.41 711.38 507.93 711.32 510.00 711.38 C512.07 711.45 512.98 712.26 513.58 712.44" fill="none" stroke="#2b6e12" stroke-width="5.1" stroke-linecap="butt" stroke-linejoin="round"/>
<path d="M442.84 767.01 C443.40 765.34 444.96 760.20 446.19 756.96 C447.42 753.72 448.43 750.15 450.21 747.58 C452.00 745.01 454.24 742.77 456.92 741.54 C459.60 740.32 463.62 741.10 466.30 740.20 C468.98 739.31 470.77 737.75 473.00 736.18 C475.24 734.62 477.36 732.16 479.71 730.82 C482.05 729.48 484.40 729.03 487.08 728.14 C489.76 727.25 493.00 726.02 495.79 725.46 C498.58 724.90 502.00 724.59 503.83 724.79 C505.67 724.99 506.29 726.35 506.78 726.66" fill="none" stroke="#2b6e12" stroke-width="5.1" stroke-linecap="butt" stroke-linejoin="round"/>
<path d="M445.12 779.48 C445.41 778.41 445.79 775.24 446.86 773.05 C447.94 770.86 450.33 769.02 451.55 766.34 C452.78 763.66 452.90 759.42 454.24 756.96 C455.58 754.50 457.36 753.05 459.60 751.60 C461.83 750.15 465.18 749.36 467.64 748.25 C470.10 747.13 472.96 746.35 474.34 744.90 C475.73 743.44 475.06 740.83 475.95 739.53 C476.85 738.24 477.96 737.84 479.71 737.12 C481.45 736.41 484.89 736.36 486.41 735.24 C487.93 734.13 488.42 731.22 488.82 730.42" fill="none" stroke="#2b6e12" stroke-width="5.1" stroke-linecap="butt" stroke-linejoin="round"/>
<path d="M490.43 736.58 C491.77 736.00 495.21 734.06 498.47 733.10 C501.73 732.13 506.77 731.90 509.97 730.79 C513.18 729.69 514.80 726.96 517.69 726.45 C520.59 725.94 524.40 726.45 527.35 727.74 C530.29 729.02 532.44 732.03 535.39 734.17 C538.34 736.32 541.55 739.27 545.04 740.61 C548.53 741.95 553.08 741.41 556.30 742.21 C559.52 743.02 561.66 743.29 564.34 745.43 C567.02 747.58 569.97 751.87 572.39 755.08 C574.80 758.30 577.35 762.00 578.82 764.73 C580.29 767.47 580.83 770.36 581.23 771.49" fill="none" stroke="#2b6e12" stroke-width="5.1" stroke-linecap="butt" stroke-linejoin="round"/>
<path d="M493.78 719.43 C495.23 719.76 500.55 721.10 502.49 721.44 C504.44 721.78 503.20 721.08 505.47 721.46 C507.73 721.84 512.17 723.21 516.09 723.72 C520.00 724.23 524.93 723.72 528.95 724.52 C532.98 725.32 536.19 726.66 540.21 728.54 C544.24 730.42 550.94 734.57 553.08 735.78" fill="none" stroke="#2b6e12" stroke-width="5.1" stroke-linecap="butt" stroke-linejoin="round"/>
<path d="M553.08 745.43 C554.42 746.24 558.44 748.11 561.13 750.26 C563.81 752.40 566.89 755.35 569.17 758.30 C571.45 761.25 573.59 764.33 574.80 767.95 C576.00 771.57 576.14 778.00 576.41 780.02" fill="none" stroke="#2b6e12" stroke-width="5.1" stroke-linecap="butt" stroke-linejoin="round"/>
<path d="M578.02 638.43 C577.61 639.77 576.68 643.80 575.60 646.48 C574.53 649.16 572.65 651.84 571.58 654.52 C570.51 657.20 570.91 660.28 569.17 662.56 C567.43 664.84 564.07 666.58 561.13 668.19 C558.18 669.80 554.69 670.61 551.47 672.21 C548.26 673.82 544.24 675.70 541.82 677.84 C539.41 679.99 539.14 683.07 537.00 685.08 C534.85 687.09 532.44 688.70 528.95 689.91 C525.47 691.11 518.23 691.92 516.09 692.32" fill="none" stroke="#2b6e12" stroke-width="5.1" stroke-linecap="butt" stroke-linejoin="round"/>
<path d="M579.62 651.30 C579.09 652.91 577.61 658.01 576.41 660.95 C575.20 663.90 574.40 666.72 572.39 669.00 C570.37 671.28 567.29 673.29 564.34 674.63 C561.39 675.97 557.37 675.83 554.69 677.04 C552.01 678.25 550.40 679.72 548.26 681.87 C546.11 684.01 544.37 687.90 541.82 689.91 C539.28 691.92 534.45 693.26 532.98 693.93" fill="none" stroke="#2b6e12" stroke-width="5.1" stroke-linecap="butt" stroke-linejoin="round"/>
<path d="M587.67 688.30 C588.07 689.91 589.76 695.94 590.08 697.95 C590.40 699.97 590.00 698.64 589.60 700.39 C589.20 702.14 589.20 706.83 587.67 708.43 C586.14 710.04 583.24 710.44 580.43 710.04 C577.61 709.64 573.99 707.09 570.78 706.02 C567.56 704.95 564.34 703.61 561.13 703.61 C557.91 703.61 554.64 704.47 551.47 706.02 C548.31 707.58 543.70 711.79 542.14 712.94" fill="none" stroke="#2b6e12" stroke-width="5.1" stroke-linecap="butt" stroke-linejoin="round"/>
<path d="M542.63 721.30 C544.64 721.70 550.40 722.86 554.69 723.72 C558.98 724.57 566.09 725.99 568.36 726.45" fill="none" stroke="#2b6e12" stroke-width="5.1" stroke-linecap="butt" stroke-linejoin="round"/>
<circle cx="428.80" cy="660.40" r="10.60" fill="url(#lnp)"/>
<circle cx="446.50" cy="689.20" r="10.10" fill="url(#lnp)"/>
<circle cx="481.00" cy="705.60" r="12.00" fill="url(#lnp)"/>
<circle cx="442.20" cy="721.80" r="12.20" fill="url(#lnp)"/>
<circle cx="428.10" cy="757.40" r="11.60" fill="url(#lnp)"/>
<circle cx="530.60" cy="708.00" r="11.50" fill="url(#lnp)"/>
<circle cx="598.40" cy="650.50" r="12.40" fill="url(#lnp)"/>
<circle cx="576.40" cy="686.70" r="11.50" fill="url(#lnp)"/>
<circle cx="578.00" cy="722.10" r="10.90" fill="url(#lnp)"/>
<circle cx="593.00" cy="749.80" r="13.20" fill="url(#lnp)"/>
<path d="M602.95 656.13 C603.62 657.47 606.43 661.22 606.97 664.17 C607.51 667.12 607.10 671.14 606.17 673.82 C605.23 676.50 603.48 679.45 601.34 680.26 C599.20 681.06 595.71 678.78 593.30 678.65 C590.88 678.51 587.94 679.32 586.86 679.45" fill="none" stroke="#2b6e12" stroke-width="5.1" stroke-linecap="butt" stroke-linejoin="round"/>
<path d="M587.67 724.52 C589.14 724.65 593.97 724.12 596.51 725.32 C599.06 726.53 602.41 729.35 602.95 731.76 C603.48 734.17 601.88 737.39 599.73 739.80 C597.59 742.21 592.36 744.22 590.08 746.24 C587.80 748.25 586.06 749.85 586.06 751.87 C586.06 753.88 588.34 756.16 590.08 758.30 C591.82 760.44 595.04 761.79 596.51 764.73 C597.99 767.68 598.52 774.12 598.93 775.99" fill="none" stroke="#2b6e12" stroke-width="5.1" stroke-linecap="butt" stroke-linejoin="round"/>
<path d="M468.98 706.96 C469.65 707.03 471.66 706.62 473.00 707.36 C474.34 708.10 476.24 709.60 477.02 711.38 C477.81 713.17 476.80 716.75 477.69 718.09 C478.59 719.43 480.82 719.54 482.39 719.43 C483.95 719.31 486.30 717.75 487.08 717.42" fill="none" stroke="#2b6e12" stroke-width="5.1" stroke-linecap="butt" stroke-linejoin="round"/>
</g>
<text x="508.70" y="656.30" font-size="10.8" font-weight="bold" text-anchor="middle" fill="#111" >Oil</text>
<text x="507.50" y="770.20" font-size="10.8" font-weight="bold" text-anchor="middle" fill="#111" >Oil</text>
<circle cx="425.00" cy="796.40" r="8.00" fill="url(#lnp)"/>
<text x="444.50" y="799.90" font-size="8.6" font-weight="bold" text-anchor="start" fill="#111" textLength="22.0" lengthAdjust="spacingAndGlyphs" >LNPs</text>
<path d="M501.2 802 C500 796 501.5 792.5 507.5 793.5 C514.5 794.8 521.5 793.5 525.8 789.8" fill="none" stroke="#2b6e12" stroke-width="2.1"/>
<text x="545.50" y="796.50" font-size="8.6" font-weight="bold" text-anchor="start" fill="#111" textLength="22.5" lengthAdjust="spacingAndGlyphs" >TCNF</text>
<circle cx="683.8" cy="661.7" r="29.6" fill="#eedcbf" stroke="#2b6e12" stroke-width="4.4"/>
<text x="683.30" y="663.60" font-size="11.5" font-weight="bold" text-anchor="middle" fill="#111" textLength="14.4" lengthAdjust="spacingAndGlyphs" >Oil</text>
<rect x="676.16" y="624.85" width="5.40" height="1.3" fill="#111"/>
<rect x="701.62" y="630.23" width="5.40" height="1.3" fill="#111"/>
<rect x="652.17" y="634.15" width="5.40" height="1.3" fill="#111"/>
<rect x="715.08" y="646.39" width="5.40" height="1.3" fill="#111"/>
<rect x="643.60" y="657.16" width="5.40" height="1.3" fill="#111"/>
<rect x="717.53" y="666.95" width="5.40" height="1.3" fill="#111"/>
<rect x="648.99" y="676.99" width="5.40" height="1.3" fill="#111"/>
<rect x="708.96" y="685.31" width="5.40" height="1.3" fill="#111"/>
<rect x="661.96" y="692.17" width="5.40" height="1.3" fill="#111"/>
<rect x="690.12" y="696.57" width="5.40" height="1.3" fill="#111"/>
<circle cx="670.00" cy="717.30" r="9.80" fill="url(#lnp)"/>
<rect x="661.14" y="705.14" width="4.60" height="1.3" fill="#111"/>
<rect x="672.16" y="705.14" width="4.60" height="1.3" fill="#111"/>
<rect x="654.29" y="713.46" width="4.60" height="1.3" fill="#111"/>
<rect x="680.72" y="713.46" width="4.60" height="1.3" fill="#111"/>
<rect x="655.75" y="723.50" width="4.60" height="1.3" fill="#111"/>
<rect x="679.01" y="723.50" width="4.60" height="1.3" fill="#111"/>
<rect x="667.50" y="729.62" width="4.60" height="1.3" fill="#111"/>
<text x="677.00" y="759.60" font-size="10.6" font-weight="normal" text-anchor="middle" fill="#0c0c0c" textLength="115.0" lengthAdjust="spacingAndGlyphs" >TCNF forming a repulsive</text>
<text x="677.00" y="771.05" font-size="10.6" font-weight="normal" text-anchor="middle" fill="#0c0c0c" textLength="118.7" lengthAdjust="spacingAndGlyphs" >barrier that prevents LNPs</text>
<text x="677.00" y="782.50" font-size="10.6" font-weight="normal" text-anchor="middle" fill="#0c0c0c" textLength="97.0" lengthAdjust="spacingAndGlyphs" >to be adsorbed at the</text>
<text x="677.00" y="793.95" font-size="10.6" font-weight="normal" text-anchor="middle" fill="#0c0c0c" textLength="40.5" lengthAdjust="spacingAndGlyphs" >interface</text>
<text x="378.90" y="853.70" font-size="16" font-weight="bold" text-anchor="middle" fill="#0d0d0d" >(g)</text>
</svg>
</body></html>
